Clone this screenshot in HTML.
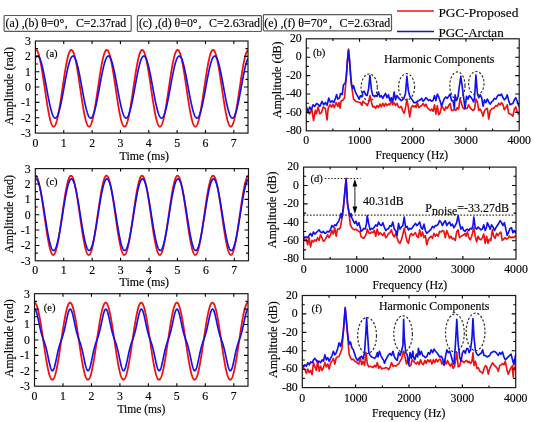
<!DOCTYPE html><html><head><meta charset="utf-8"><style>html,body{margin:0;padding:0;background:#fff;overflow:hidden}svg{display:block;filter:blur(0.35px)}</style></head><body><svg width="533" height="422" viewBox="0 0 533 422">
<style>text{font-family:"Liberation Serif",serif;fill:#000;stroke:#000;stroke-width:0.15px}.t{font-size:11.8px}.l{font-size:12.1px}.b{font-size:12px}.p{font-size:10.6px}</style>
<rect width="533" height="422" fill="#fff"/>
<rect x="4.1" y="15.5" width="127.1" height="15.8" fill="#fff" stroke="#5a5a5a" stroke-width="1.2" rx="0.8"/>
<rect x="137.4" y="15.7" width="123.99999999999997" height="15.8" fill="#fff" stroke="#5a5a5a" stroke-width="1.2" rx="0.8"/>
<rect x="263.4" y="14.6" width="128.10000000000002" height="16.200000000000003" fill="#fff" stroke="#5a5a5a" stroke-width="1.2" rx="0.8"/>
<text x="5.6" y="27.3" class="b" textLength="58.6" lengthAdjust="spacingAndGlyphs">(a) ,(b) θ=0°</text>
<text x="64.8" y="27.3" class="b">,</text>
<text x="75.9" y="27.3" class="b" textLength="50.3" lengthAdjust="spacingAndGlyphs">C=2.37rad</text>
<text x="138.9" y="27.3" class="b" textLength="58.6" lengthAdjust="spacingAndGlyphs">(c) ,(d) θ=0°</text>
<text x="198.4" y="27.3" class="b">,</text>
<text x="209.1" y="27.3" class="b" textLength="51.0" lengthAdjust="spacingAndGlyphs">C=2.63rad</text>
<text x="264.2" y="26.6" class="b" textLength="63.3" lengthAdjust="spacingAndGlyphs">(e) ,(f) θ=70°</text>
<text x="328.9" y="26.6" class="b">,</text>
<text x="339.6" y="26.6" class="b" textLength="50.6" lengthAdjust="spacingAndGlyphs">C=2.63rad</text>
<path d="M397,11H434" stroke="#f01010" stroke-width="1.5"/>
<path d="M397,31.5H434" stroke="#1010f0" stroke-width="1.5"/>
<text x="438.4" y="16.5" font-size="13.3" textLength="80" lengthAdjust="spacingAndGlyphs">PGC-Proposed</text>
<text x="438.4" y="36.5" font-size="13.3" textLength="65.3" lengthAdjust="spacingAndGlyphs">PGC-Arctan</text>
<clipPath id="ca"><rect x="35.4" y="41.0" width="212.6" height="92.1"/></clipPath>
<polyline clip-path="url(#ca)" points="35.40,50.06 35.64,49.95 35.87,49.90 36.11,49.93 36.34,50.02 36.58,50.17 36.82,50.40 37.05,50.69 37.29,51.05 37.53,51.47 37.76,51.95 38.00,52.50 38.23,53.12 38.47,53.79 38.71,54.53 38.94,55.32 39.18,56.17 39.42,57.08 39.65,58.04 39.89,59.06 40.12,60.13 40.36,61.25 40.60,62.41 40.83,63.62 41.07,64.87 41.31,66.17 41.54,67.50 41.78,68.87 42.01,70.27 42.25,71.71 42.49,73.17 42.72,74.66 42.96,76.18 43.20,77.71 43.43,79.26 43.67,80.83 43.90,82.42 44.14,84.01 44.38,85.61 44.61,87.22 44.85,88.82 45.09,90.43 45.32,92.03 45.56,93.63 45.79,95.22 46.03,96.79 46.27,98.35 46.50,99.89 46.74,101.41 46.97,102.91 47.21,104.38 47.45,105.83 47.68,107.24 47.92,108.62 48.16,109.97 48.39,111.27 48.63,112.54 48.86,113.76 49.10,114.94 49.34,116.08 49.57,117.16 49.81,118.19 50.05,119.17 50.28,120.10 50.52,120.97 50.75,121.78 50.99,122.54 51.23,123.23 51.46,123.86 51.70,124.43 51.94,124.94 52.17,125.38 52.41,125.76 52.64,126.07 52.88,126.32 53.12,126.50 53.35,126.61 53.59,126.65 53.83,126.63 54.06,126.54 54.30,126.38 54.53,126.16 54.77,125.87 55.01,125.51 55.24,125.09 55.48,124.60 55.72,124.05 55.95,123.44 56.19,122.76 56.42,122.03 56.66,121.24 56.90,120.38 57.13,119.47 57.37,118.51 57.60,117.50 57.84,116.43 58.08,115.31 58.31,114.15 58.55,112.94 58.79,111.68 59.02,110.39 59.26,109.06 59.49,107.69 59.73,106.28 59.97,104.85 60.20,103.39 60.44,101.90 60.68,100.38 60.91,98.85 61.15,97.29 61.38,95.72 61.62,94.14 61.86,92.54 62.09,90.94 62.33,89.34 62.57,87.73 62.80,86.13 63.04,84.52 63.27,82.93 63.51,81.34 63.75,79.77 63.98,78.21 64.22,76.66 64.46,75.14 64.69,73.64 64.93,72.17 65.16,70.73 65.40,69.31 65.64,67.93 65.87,66.59 66.11,65.28 66.35,64.02 66.58,62.79 66.82,61.61 67.05,60.48 67.29,59.40 67.53,58.36 67.76,57.38 68.00,56.46 68.23,55.59 68.47,54.77 68.71,54.02 68.94,53.33 69.18,52.69 69.42,52.12 69.65,51.62 69.89,51.17 70.12,50.80 70.36,50.48 70.60,50.24 70.83,50.06 71.07,49.95 71.31,49.90 71.54,49.93 71.78,50.02 72.01,50.17 72.25,50.40 72.49,50.69 72.72,51.05 72.96,51.47 73.20,51.95 73.43,52.50 73.67,53.12 73.90,53.79 74.14,54.53 74.38,55.32 74.61,56.17 74.85,57.08 75.09,58.04 75.32,59.06 75.56,60.13 75.79,61.25 76.03,62.41 76.27,63.62 76.50,64.87 76.74,66.17 76.98,67.50 77.21,68.87 77.45,70.27 77.68,71.71 77.92,73.17 78.16,74.66 78.39,76.18 78.63,77.71 78.86,79.26 79.10,80.83 79.34,82.42 79.57,84.01 79.81,85.61 80.05,87.22 80.28,88.82 80.52,90.43 80.75,92.03 80.99,93.63 81.23,95.22 81.46,96.79 81.70,98.35 81.94,99.89 82.17,101.41 82.41,102.91 82.64,104.38 82.88,105.83 83.12,107.24 83.35,108.62 83.59,109.97 83.83,111.27 84.06,112.54 84.30,113.76 84.53,114.94 84.77,116.08 85.01,117.16 85.24,118.19 85.48,119.17 85.72,120.10 85.95,120.97 86.19,121.78 86.42,122.54 86.66,123.23 86.90,123.86 87.13,124.43 87.37,124.94 87.61,125.38 87.84,125.76 88.08,126.07 88.31,126.32 88.55,126.50 88.79,126.61 89.02,126.65 89.26,126.63 89.49,126.54 89.73,126.38 89.97,126.16 90.20,125.87 90.44,125.51 90.68,125.09 90.91,124.60 91.15,124.05 91.38,123.44 91.62,122.76 91.86,122.03 92.09,121.24 92.33,120.38 92.57,119.47 92.80,118.51 93.04,117.50 93.27,116.43 93.51,115.31 93.75,114.15 93.98,112.94 94.22,111.68 94.46,110.39 94.69,109.06 94.93,107.69 95.16,106.28 95.40,104.85 95.64,103.39 95.87,101.90 96.11,100.38 96.35,98.85 96.58,97.29 96.82,95.72 97.05,94.14 97.29,92.54 97.53,90.94 97.76,89.34 98.00,87.73 98.24,86.13 98.47,84.52 98.71,82.93 98.94,81.34 99.18,79.77 99.42,78.21 99.65,76.66 99.89,75.14 100.12,73.64 100.36,72.17 100.60,70.73 100.83,69.31 101.07,67.93 101.31,66.59 101.54,65.28 101.78,64.02 102.01,62.79 102.25,61.61 102.49,60.48 102.72,59.40 102.96,58.36 103.20,57.38 103.43,56.46 103.67,55.59 103.90,54.77 104.14,54.02 104.38,53.33 104.61,52.69 104.85,52.12 105.09,51.62 105.32,51.17 105.56,50.80 105.79,50.48 106.03,50.24 106.27,50.06 106.50,49.95 106.74,49.90 106.98,49.93 107.21,50.02 107.45,50.17 107.68,50.40 107.92,50.69 108.16,51.05 108.39,51.47 108.63,51.95 108.87,52.50 109.10,53.12 109.34,53.79 109.57,54.53 109.81,55.32 110.05,56.17 110.28,57.08 110.52,58.04 110.75,59.06 110.99,60.13 111.23,61.25 111.46,62.41 111.70,63.62 111.94,64.87 112.17,66.17 112.41,67.50 112.64,68.87 112.88,70.27 113.12,71.71 113.35,73.17 113.59,74.66 113.83,76.18 114.06,77.71 114.30,79.26 114.53,80.83 114.77,82.42 115.01,84.01 115.24,85.61 115.48,87.22 115.72,88.82 115.95,90.43 116.19,92.03 116.42,93.63 116.66,95.22 116.90,96.79 117.13,98.35 117.37,99.89 117.61,101.41 117.84,102.91 118.08,104.38 118.31,105.83 118.55,107.24 118.79,108.62 119.02,109.97 119.26,111.27 119.50,112.54 119.73,113.76 119.97,114.94 120.20,116.08 120.44,117.16 120.68,118.19 120.91,119.17 121.15,120.10 121.38,120.97 121.62,121.78 121.86,122.54 122.09,123.23 122.33,123.86 122.57,124.43 122.80,124.94 123.04,125.38 123.27,125.76 123.51,126.07 123.75,126.32 123.98,126.50 124.22,126.61 124.46,126.65 124.69,126.63 124.93,126.54 125.16,126.38 125.40,126.16 125.64,125.87 125.87,125.51 126.11,125.09 126.35,124.60 126.58,124.05 126.82,123.44 127.05,122.76 127.29,122.03 127.53,121.24 127.76,120.38 128.00,119.47 128.24,118.51 128.47,117.50 128.71,116.43 128.94,115.31 129.18,114.15 129.42,112.94 129.65,111.68 129.89,110.39 130.13,109.06 130.36,107.69 130.60,106.28 130.83,104.85 131.07,103.39 131.31,101.90 131.54,100.38 131.78,98.85 132.01,97.29 132.25,95.72 132.49,94.14 132.72,92.54 132.96,90.94 133.20,89.34 133.43,87.73 133.67,86.13 133.90,84.52 134.14,82.93 134.38,81.34 134.61,79.77 134.85,78.21 135.09,76.66 135.32,75.14 135.56,73.64 135.79,72.17 136.03,70.73 136.27,69.31 136.50,67.93 136.74,66.59 136.98,65.28 137.21,64.02 137.45,62.79 137.68,61.61 137.92,60.48 138.16,59.40 138.39,58.36 138.63,57.38 138.87,56.46 139.10,55.59 139.34,54.77 139.57,54.02 139.81,53.33 140.05,52.69 140.28,52.12 140.52,51.62 140.76,51.17 140.99,50.80 141.23,50.48 141.46,50.24 141.70,50.06 141.94,49.95 142.17,49.90 142.41,49.93 142.64,50.02 142.88,50.17 143.12,50.40 143.35,50.69 143.59,51.05 143.83,51.47 144.06,51.95 144.30,52.50 144.53,53.12 144.77,53.79 145.01,54.53 145.24,55.32 145.48,56.17 145.72,57.08 145.95,58.04 146.19,59.06 146.42,60.13 146.66,61.25 146.90,62.41 147.13,63.62 147.37,64.87 147.61,66.17 147.84,67.50 148.08,68.87 148.31,70.27 148.55,71.71 148.79,73.17 149.02,74.66 149.26,76.18 149.50,77.71 149.73,79.26 149.97,80.83 150.20,82.42 150.44,84.01 150.68,85.61 150.91,87.22 151.15,88.82 151.39,90.43 151.62,92.03 151.86,93.63 152.09,95.22 152.33,96.79 152.57,98.35 152.80,99.89 153.04,101.41 153.27,102.91 153.51,104.38 153.75,105.83 153.98,107.24 154.22,108.62 154.46,109.97 154.69,111.27 154.93,112.54 155.16,113.76 155.40,114.94 155.64,116.08 155.87,117.16 156.11,118.19 156.35,119.17 156.58,120.10 156.82,120.97 157.05,121.78 157.29,122.54 157.53,123.23 157.76,123.86 158.00,124.43 158.24,124.94 158.47,125.38 158.71,125.76 158.94,126.07 159.18,126.32 159.42,126.50 159.65,126.61 159.89,126.65 160.13,126.63 160.36,126.54 160.60,126.38 160.83,126.16 161.07,125.87 161.31,125.51 161.54,125.09 161.78,124.60 162.02,124.05 162.25,123.44 162.49,122.76 162.72,122.03 162.96,121.24 163.20,120.38 163.43,119.47 163.67,118.51 163.90,117.50 164.14,116.43 164.38,115.31 164.61,114.15 164.85,112.94 165.09,111.68 165.32,110.39 165.56,109.06 165.79,107.69 166.03,106.28 166.27,104.85 166.50,103.39 166.74,101.90 166.98,100.38 167.21,98.85 167.45,97.29 167.68,95.72 167.92,94.14 168.16,92.54 168.39,90.94 168.63,89.34 168.87,87.73 169.10,86.13 169.34,84.52 169.57,82.93 169.81,81.34 170.05,79.77 170.28,78.21 170.52,76.66 170.76,75.14 170.99,73.64 171.23,72.17 171.46,70.73 171.70,69.31 171.94,67.93 172.17,66.59 172.41,65.28 172.65,64.02 172.88,62.79 173.12,61.61 173.35,60.48 173.59,59.40 173.83,58.36 174.06,57.38 174.30,56.46 174.53,55.59 174.77,54.77 175.01,54.02 175.24,53.33 175.48,52.69 175.72,52.12 175.95,51.62 176.19,51.17 176.42,50.80 176.66,50.48 176.90,50.24 177.13,50.06 177.37,49.95 177.61,49.90 177.84,49.93 178.08,50.02 178.31,50.17 178.55,50.40 178.79,50.69 179.02,51.05 179.26,51.47 179.50,51.95 179.73,52.50 179.97,53.12 180.20,53.79 180.44,54.53 180.68,55.32 180.91,56.17 181.15,57.08 181.39,58.04 181.62,59.06 181.86,60.13 182.09,61.25 182.33,62.41 182.57,63.62 182.80,64.87 183.04,66.17 183.28,67.50 183.51,68.87 183.75,70.27 183.98,71.71 184.22,73.17 184.46,74.66 184.69,76.18 184.93,77.71 185.16,79.26 185.40,80.83 185.64,82.42 185.87,84.01 186.11,85.61 186.35,87.22 186.58,88.82 186.82,90.43 187.05,92.03 187.29,93.63 187.53,95.22 187.76,96.79 188.00,98.35 188.24,99.89 188.47,101.41 188.71,102.91 188.94,104.38 189.18,105.83 189.42,107.24 189.65,108.62 189.89,109.97 190.13,111.27 190.36,112.54 190.60,113.76 190.83,114.94 191.07,116.08 191.31,117.16 191.54,118.19 191.78,119.17 192.02,120.10 192.25,120.97 192.49,121.78 192.72,122.54 192.96,123.23 193.20,123.86 193.43,124.43 193.67,124.94 193.91,125.38 194.14,125.76 194.38,126.07 194.61,126.32 194.85,126.50 195.09,126.61 195.32,126.65 195.56,126.63 195.79,126.54 196.03,126.38 196.27,126.16 196.50,125.87 196.74,125.51 196.98,125.09 197.21,124.60 197.45,124.05 197.68,123.44 197.92,122.76 198.16,122.03 198.39,121.24 198.63,120.38 198.87,119.47 199.10,118.51 199.34,117.50 199.57,116.43 199.81,115.31 200.05,114.15 200.28,112.94 200.52,111.68 200.76,110.39 200.99,109.06 201.23,107.69 201.46,106.28 201.70,104.85 201.94,103.39 202.17,101.90 202.41,100.38 202.65,98.85 202.88,97.29 203.12,95.72 203.35,94.14 203.59,92.54 203.83,90.94 204.06,89.34 204.30,87.73 204.54,86.13 204.77,84.52 205.01,82.93 205.24,81.34 205.48,79.77 205.72,78.21 205.95,76.66 206.19,75.14 206.42,73.64 206.66,72.17 206.90,70.73 207.13,69.31 207.37,67.93 207.61,66.59 207.84,65.28 208.08,64.02 208.31,62.79 208.55,61.61 208.79,60.48 209.02,59.40 209.26,58.36 209.50,57.38 209.73,56.46 209.97,55.59 210.20,54.77 210.44,54.02 210.68,53.33 210.91,52.69 211.15,52.12 211.39,51.62 211.62,51.17 211.86,50.80 212.09,50.48 212.33,50.24 212.57,50.06 212.80,49.95 213.04,49.90 213.28,49.93 213.51,50.02 213.75,50.17 213.98,50.40 214.22,50.69 214.46,51.05 214.69,51.47 214.93,51.95 215.17,52.50 215.40,53.12 215.64,53.79 215.87,54.53 216.11,55.32 216.35,56.17 216.58,57.08 216.82,58.04 217.05,59.06 217.29,60.13 217.53,61.25 217.76,62.41 218.00,63.62 218.24,64.87 218.47,66.17 218.71,67.50 218.94,68.87 219.18,70.27 219.42,71.71 219.65,73.17 219.89,74.66 220.13,76.18 220.36,77.71 220.60,79.26 220.83,80.83 221.07,82.42 221.31,84.01 221.54,85.61 221.78,87.22 222.02,88.82 222.25,90.43 222.49,92.03 222.72,93.63 222.96,95.22 223.20,96.79 223.43,98.35 223.67,99.89 223.91,101.41 224.14,102.91 224.38,104.38 224.61,105.83 224.85,107.24 225.09,108.62 225.32,109.97 225.56,111.27 225.80,112.54 226.03,113.76 226.27,114.94 226.50,116.08 226.74,117.16 226.98,118.19 227.21,119.17 227.45,120.10 227.68,120.97 227.92,121.78 228.16,122.54 228.39,123.23 228.63,123.86 228.87,124.43 229.10,124.94 229.34,125.38 229.57,125.76 229.81,126.07 230.05,126.32 230.28,126.50 230.52,126.61 230.76,126.65 230.99,126.63 231.23,126.54 231.46,126.38 231.70,126.16 231.94,125.87 232.17,125.51 232.41,125.09 232.65,124.60 232.88,124.05 233.12,123.44 233.35,122.76 233.59,122.03 233.83,121.24 234.06,120.38 234.30,119.47 234.54,118.51 234.77,117.50 235.01,116.43 235.24,115.31 235.48,114.15 235.72,112.94 235.95,111.68 236.19,110.39 236.43,109.06 236.66,107.69 236.90,106.28 237.13,104.85 237.37,103.39 237.61,101.90 237.84,100.38 238.08,98.85 238.31,97.29 238.55,95.72 238.79,94.14 239.02,92.54 239.26,90.94 239.50,89.34 239.73,87.73 239.97,86.13 240.20,84.52 240.44,82.93 240.68,81.34 240.91,79.77 241.15,78.21 241.39,76.66 241.62,75.14 241.86,73.64 242.09,72.17 242.33,70.73 242.57,69.31 242.80,67.93 243.04,66.59 243.28,65.28 243.51,64.02 243.75,62.79 243.98,61.61 244.22,60.48 244.46,59.40 244.69,58.36 244.93,57.38 245.17,56.46 245.40,55.59 245.64,54.77 245.87,54.02 246.11,53.33 246.35,52.69 246.58,52.12 246.82,51.62 247.06,51.17 247.29,50.80 247.53,50.48 247.76,50.24 248.00,50.06" fill="none" stroke="#f01010" stroke-width="1.8" stroke-linejoin="round"/>
<polyline clip-path="url(#ca)" points="35.40,58.22 35.64,57.77 35.87,57.37 36.11,57.02 36.34,56.72 36.58,56.48 36.82,56.29 37.05,56.15 37.29,56.07 37.53,56.04 37.76,56.07 38.00,56.15 38.23,56.29 38.47,56.48 38.71,56.72 38.94,57.02 39.18,57.37 39.42,57.77 39.65,58.22 39.89,58.72 40.12,59.28 40.36,59.88 40.60,60.53 40.83,61.22 41.07,61.96 41.31,62.75 41.54,63.58 41.78,64.45 42.01,65.36 42.25,66.30 42.49,67.29 42.72,68.30 42.96,69.35 43.20,70.44 43.43,71.55 43.67,72.68 43.90,73.85 44.14,75.03 44.38,76.24 44.61,77.47 44.85,78.71 45.09,79.97 45.32,81.24 45.56,82.52 45.79,83.81 46.03,85.10 46.27,86.40 46.50,87.70 46.74,89.00 46.97,90.29 47.21,91.58 47.45,92.86 47.68,94.13 47.92,95.39 48.16,96.63 48.39,97.86 48.63,99.07 48.86,100.25 49.10,101.42 49.34,102.55 49.57,103.66 49.81,104.75 50.05,105.80 50.28,106.81 50.52,107.80 50.75,108.74 50.99,109.65 51.23,110.52 51.46,111.35 51.70,112.14 51.94,112.88 52.17,113.57 52.41,114.22 52.64,114.82 52.88,115.38 53.12,115.88 53.35,116.33 53.59,116.73 53.83,117.08 54.06,117.38 54.30,117.62 54.53,117.81 54.77,117.95 55.01,118.03 55.24,118.06 55.48,118.03 55.72,117.95 55.95,117.81 56.19,117.62 56.42,117.38 56.66,117.08 56.90,116.73 57.13,116.33 57.37,115.88 57.60,115.38 57.84,114.82 58.08,114.22 58.31,113.57 58.55,112.88 58.79,112.14 59.02,111.35 59.26,110.52 59.49,109.65 59.73,108.74 59.97,107.80 60.20,106.81 60.44,105.80 60.68,104.75 60.91,103.66 61.15,102.55 61.38,101.42 61.62,100.25 61.86,99.07 62.09,97.86 62.33,96.63 62.57,95.39 62.80,94.13 63.04,92.86 63.27,91.58 63.51,90.29 63.75,89.00 63.98,87.70 64.22,86.40 64.46,85.10 64.69,83.81 64.93,82.52 65.16,81.24 65.40,79.97 65.64,78.71 65.87,77.47 66.11,76.24 66.35,75.03 66.58,73.85 66.82,72.68 67.05,71.55 67.29,70.44 67.53,69.35 67.76,68.30 68.00,67.29 68.23,66.30 68.47,65.36 68.71,64.45 68.94,63.58 69.18,62.75 69.42,61.96 69.65,61.22 69.89,60.53 70.12,59.88 70.36,59.28 70.60,58.72 70.83,58.22 71.07,57.77 71.31,57.37 71.54,57.02 71.78,56.72 72.01,56.48 72.25,56.29 72.49,56.15 72.72,56.07 72.96,56.04 73.20,56.07 73.43,56.15 73.67,56.29 73.90,56.48 74.14,56.72 74.38,57.02 74.61,57.37 74.85,57.77 75.09,58.22 75.32,58.72 75.56,59.28 75.79,59.88 76.03,60.53 76.27,61.22 76.50,61.96 76.74,62.75 76.98,63.58 77.21,64.45 77.45,65.36 77.68,66.30 77.92,67.29 78.16,68.30 78.39,69.35 78.63,70.44 78.86,71.55 79.10,72.68 79.34,73.85 79.57,75.03 79.81,76.24 80.05,77.47 80.28,78.71 80.52,79.97 80.75,81.24 80.99,82.52 81.23,83.81 81.46,85.10 81.70,86.40 81.94,87.70 82.17,89.00 82.41,90.29 82.64,91.58 82.88,92.86 83.12,94.13 83.35,95.39 83.59,96.63 83.83,97.86 84.06,99.07 84.30,100.25 84.53,101.42 84.77,102.55 85.01,103.66 85.24,104.75 85.48,105.80 85.72,106.81 85.95,107.80 86.19,108.74 86.42,109.65 86.66,110.52 86.90,111.35 87.13,112.14 87.37,112.88 87.61,113.57 87.84,114.22 88.08,114.82 88.31,115.38 88.55,115.88 88.79,116.33 89.02,116.73 89.26,117.08 89.49,117.38 89.73,117.62 89.97,117.81 90.20,117.95 90.44,118.03 90.68,118.06 90.91,118.03 91.15,117.95 91.38,117.81 91.62,117.62 91.86,117.38 92.09,117.08 92.33,116.73 92.57,116.33 92.80,115.88 93.04,115.38 93.27,114.82 93.51,114.22 93.75,113.57 93.98,112.88 94.22,112.14 94.46,111.35 94.69,110.52 94.93,109.65 95.16,108.74 95.40,107.80 95.64,106.81 95.87,105.80 96.11,104.75 96.35,103.66 96.58,102.55 96.82,101.42 97.05,100.25 97.29,99.07 97.53,97.86 97.76,96.63 98.00,95.39 98.24,94.13 98.47,92.86 98.71,91.58 98.94,90.29 99.18,89.00 99.42,87.70 99.65,86.40 99.89,85.10 100.12,83.81 100.36,82.52 100.60,81.24 100.83,79.97 101.07,78.71 101.31,77.47 101.54,76.24 101.78,75.03 102.01,73.85 102.25,72.68 102.49,71.55 102.72,70.44 102.96,69.35 103.20,68.30 103.43,67.29 103.67,66.30 103.90,65.36 104.14,64.45 104.38,63.58 104.61,62.75 104.85,61.96 105.09,61.22 105.32,60.53 105.56,59.88 105.79,59.28 106.03,58.72 106.27,58.22 106.50,57.77 106.74,57.37 106.98,57.02 107.21,56.72 107.45,56.48 107.68,56.29 107.92,56.15 108.16,56.07 108.39,56.04 108.63,56.07 108.87,56.15 109.10,56.29 109.34,56.48 109.57,56.72 109.81,57.02 110.05,57.37 110.28,57.77 110.52,58.22 110.75,58.72 110.99,59.28 111.23,59.88 111.46,60.53 111.70,61.22 111.94,61.96 112.17,62.75 112.41,63.58 112.64,64.45 112.88,65.36 113.12,66.30 113.35,67.29 113.59,68.30 113.83,69.35 114.06,70.44 114.30,71.55 114.53,72.68 114.77,73.85 115.01,75.03 115.24,76.24 115.48,77.47 115.72,78.71 115.95,79.97 116.19,81.24 116.42,82.52 116.66,83.81 116.90,85.10 117.13,86.40 117.37,87.70 117.61,89.00 117.84,90.29 118.08,91.58 118.31,92.86 118.55,94.13 118.79,95.39 119.02,96.63 119.26,97.86 119.50,99.07 119.73,100.25 119.97,101.42 120.20,102.55 120.44,103.66 120.68,104.75 120.91,105.80 121.15,106.81 121.38,107.80 121.62,108.74 121.86,109.65 122.09,110.52 122.33,111.35 122.57,112.14 122.80,112.88 123.04,113.57 123.27,114.22 123.51,114.82 123.75,115.38 123.98,115.88 124.22,116.33 124.46,116.73 124.69,117.08 124.93,117.38 125.16,117.62 125.40,117.81 125.64,117.95 125.87,118.03 126.11,118.06 126.35,118.03 126.58,117.95 126.82,117.81 127.05,117.62 127.29,117.38 127.53,117.08 127.76,116.73 128.00,116.33 128.24,115.88 128.47,115.38 128.71,114.82 128.94,114.22 129.18,113.57 129.42,112.88 129.65,112.14 129.89,111.35 130.13,110.52 130.36,109.65 130.60,108.74 130.83,107.80 131.07,106.81 131.31,105.80 131.54,104.75 131.78,103.66 132.01,102.55 132.25,101.42 132.49,100.25 132.72,99.07 132.96,97.86 133.20,96.63 133.43,95.39 133.67,94.13 133.90,92.86 134.14,91.58 134.38,90.29 134.61,89.00 134.85,87.70 135.09,86.40 135.32,85.10 135.56,83.81 135.79,82.52 136.03,81.24 136.27,79.97 136.50,78.71 136.74,77.47 136.98,76.24 137.21,75.03 137.45,73.85 137.68,72.68 137.92,71.55 138.16,70.44 138.39,69.35 138.63,68.30 138.87,67.29 139.10,66.30 139.34,65.36 139.57,64.45 139.81,63.58 140.05,62.75 140.28,61.96 140.52,61.22 140.76,60.53 140.99,59.88 141.23,59.28 141.46,58.72 141.70,58.22 141.94,57.77 142.17,57.37 142.41,57.02 142.64,56.72 142.88,56.48 143.12,56.29 143.35,56.15 143.59,56.07 143.83,56.04 144.06,56.07 144.30,56.15 144.53,56.29 144.77,56.48 145.01,56.72 145.24,57.02 145.48,57.37 145.72,57.77 145.95,58.22 146.19,58.72 146.42,59.28 146.66,59.88 146.90,60.53 147.13,61.22 147.37,61.96 147.61,62.75 147.84,63.58 148.08,64.45 148.31,65.36 148.55,66.30 148.79,67.29 149.02,68.30 149.26,69.35 149.50,70.44 149.73,71.55 149.97,72.68 150.20,73.85 150.44,75.03 150.68,76.24 150.91,77.47 151.15,78.71 151.39,79.97 151.62,81.24 151.86,82.52 152.09,83.81 152.33,85.10 152.57,86.40 152.80,87.70 153.04,89.00 153.27,90.29 153.51,91.58 153.75,92.86 153.98,94.13 154.22,95.39 154.46,96.63 154.69,97.86 154.93,99.07 155.16,100.25 155.40,101.42 155.64,102.55 155.87,103.66 156.11,104.75 156.35,105.80 156.58,106.81 156.82,107.80 157.05,108.74 157.29,109.65 157.53,110.52 157.76,111.35 158.00,112.14 158.24,112.88 158.47,113.57 158.71,114.22 158.94,114.82 159.18,115.38 159.42,115.88 159.65,116.33 159.89,116.73 160.13,117.08 160.36,117.38 160.60,117.62 160.83,117.81 161.07,117.95 161.31,118.03 161.54,118.06 161.78,118.03 162.02,117.95 162.25,117.81 162.49,117.62 162.72,117.38 162.96,117.08 163.20,116.73 163.43,116.33 163.67,115.88 163.90,115.38 164.14,114.82 164.38,114.22 164.61,113.57 164.85,112.88 165.09,112.14 165.32,111.35 165.56,110.52 165.79,109.65 166.03,108.74 166.27,107.80 166.50,106.81 166.74,105.80 166.98,104.75 167.21,103.66 167.45,102.55 167.68,101.42 167.92,100.25 168.16,99.07 168.39,97.86 168.63,96.63 168.87,95.39 169.10,94.13 169.34,92.86 169.57,91.58 169.81,90.29 170.05,89.00 170.28,87.70 170.52,86.40 170.76,85.10 170.99,83.81 171.23,82.52 171.46,81.24 171.70,79.97 171.94,78.71 172.17,77.47 172.41,76.24 172.65,75.03 172.88,73.85 173.12,72.68 173.35,71.55 173.59,70.44 173.83,69.35 174.06,68.30 174.30,67.29 174.53,66.30 174.77,65.36 175.01,64.45 175.24,63.58 175.48,62.75 175.72,61.96 175.95,61.22 176.19,60.53 176.42,59.88 176.66,59.28 176.90,58.72 177.13,58.22 177.37,57.77 177.61,57.37 177.84,57.02 178.08,56.72 178.31,56.48 178.55,56.29 178.79,56.15 179.02,56.07 179.26,56.04 179.50,56.07 179.73,56.15 179.97,56.29 180.20,56.48 180.44,56.72 180.68,57.02 180.91,57.37 181.15,57.77 181.39,58.22 181.62,58.72 181.86,59.28 182.09,59.88 182.33,60.53 182.57,61.22 182.80,61.96 183.04,62.75 183.28,63.58 183.51,64.45 183.75,65.36 183.98,66.30 184.22,67.29 184.46,68.30 184.69,69.35 184.93,70.44 185.16,71.55 185.40,72.68 185.64,73.85 185.87,75.03 186.11,76.24 186.35,77.47 186.58,78.71 186.82,79.97 187.05,81.24 187.29,82.52 187.53,83.81 187.76,85.10 188.00,86.40 188.24,87.70 188.47,89.00 188.71,90.29 188.94,91.58 189.18,92.86 189.42,94.13 189.65,95.39 189.89,96.63 190.13,97.86 190.36,99.07 190.60,100.25 190.83,101.42 191.07,102.55 191.31,103.66 191.54,104.75 191.78,105.80 192.02,106.81 192.25,107.80 192.49,108.74 192.72,109.65 192.96,110.52 193.20,111.35 193.43,112.14 193.67,112.88 193.91,113.57 194.14,114.22 194.38,114.82 194.61,115.38 194.85,115.88 195.09,116.33 195.32,116.73 195.56,117.08 195.79,117.38 196.03,117.62 196.27,117.81 196.50,117.95 196.74,118.03 196.98,118.06 197.21,118.03 197.45,117.95 197.68,117.81 197.92,117.62 198.16,117.38 198.39,117.08 198.63,116.73 198.87,116.33 199.10,115.88 199.34,115.38 199.57,114.82 199.81,114.22 200.05,113.57 200.28,112.88 200.52,112.14 200.76,111.35 200.99,110.52 201.23,109.65 201.46,108.74 201.70,107.80 201.94,106.81 202.17,105.80 202.41,104.75 202.65,103.66 202.88,102.55 203.12,101.42 203.35,100.25 203.59,99.07 203.83,97.86 204.06,96.63 204.30,95.39 204.54,94.13 204.77,92.86 205.01,91.58 205.24,90.29 205.48,89.00 205.72,87.70 205.95,86.40 206.19,85.10 206.42,83.81 206.66,82.52 206.90,81.24 207.13,79.97 207.37,78.71 207.61,77.47 207.84,76.24 208.08,75.03 208.31,73.85 208.55,72.68 208.79,71.55 209.02,70.44 209.26,69.35 209.50,68.30 209.73,67.29 209.97,66.30 210.20,65.36 210.44,64.45 210.68,63.58 210.91,62.75 211.15,61.96 211.39,61.22 211.62,60.53 211.86,59.88 212.09,59.28 212.33,58.72 212.57,58.22 212.80,57.77 213.04,57.37 213.28,57.02 213.51,56.72 213.75,56.48 213.98,56.29 214.22,56.15 214.46,56.07 214.69,56.04 214.93,56.07 215.17,56.15 215.40,56.29 215.64,56.48 215.87,56.72 216.11,57.02 216.35,57.37 216.58,57.77 216.82,58.22 217.05,58.72 217.29,59.28 217.53,59.88 217.76,60.53 218.00,61.22 218.24,61.96 218.47,62.75 218.71,63.58 218.94,64.45 219.18,65.36 219.42,66.30 219.65,67.29 219.89,68.30 220.13,69.35 220.36,70.44 220.60,71.55 220.83,72.68 221.07,73.85 221.31,75.03 221.54,76.24 221.78,77.47 222.02,78.71 222.25,79.97 222.49,81.24 222.72,82.52 222.96,83.81 223.20,85.10 223.43,86.40 223.67,87.70 223.91,89.00 224.14,90.29 224.38,91.58 224.61,92.86 224.85,94.13 225.09,95.39 225.32,96.63 225.56,97.86 225.80,99.07 226.03,100.25 226.27,101.42 226.50,102.55 226.74,103.66 226.98,104.75 227.21,105.80 227.45,106.81 227.68,107.80 227.92,108.74 228.16,109.65 228.39,110.52 228.63,111.35 228.87,112.14 229.10,112.88 229.34,113.57 229.57,114.22 229.81,114.82 230.05,115.38 230.28,115.88 230.52,116.33 230.76,116.73 230.99,117.08 231.23,117.38 231.46,117.62 231.70,117.81 231.94,117.95 232.17,118.03 232.41,118.06 232.65,118.03 232.88,117.95 233.12,117.81 233.35,117.62 233.59,117.38 233.83,117.08 234.06,116.73 234.30,116.33 234.54,115.88 234.77,115.38 235.01,114.82 235.24,114.22 235.48,113.57 235.72,112.88 235.95,112.14 236.19,111.35 236.43,110.52 236.66,109.65 236.90,108.74 237.13,107.80 237.37,106.81 237.61,105.80 237.84,104.75 238.08,103.66 238.31,102.55 238.55,101.42 238.79,100.25 239.02,99.07 239.26,97.86 239.50,96.63 239.73,95.39 239.97,94.13 240.20,92.86 240.44,91.58 240.68,90.29 240.91,89.00 241.15,87.70 241.39,86.40 241.62,85.10 241.86,83.81 242.09,82.52 242.33,81.24 242.57,79.97 242.80,78.71 243.04,77.47 243.28,76.24 243.51,75.03 243.75,73.85 243.98,72.68 244.22,71.55 244.46,70.44 244.69,69.35 244.93,68.30 245.17,67.29 245.40,66.30 245.64,65.36 245.87,64.45 246.11,63.58 246.35,62.75 246.58,61.96 246.82,61.22 247.06,60.53 247.29,59.88 247.53,59.28 247.76,58.72 248.00,58.22" fill="none" stroke="#1010f0" stroke-width="1.65" stroke-linejoin="round"/>
<rect x="35.4" y="41.0" width="212.6" height="92.1" fill="none" stroke="#1a1a1a" stroke-width="1.2"/>
<path d="M63.75,133.1v-3M63.75,41.0v3M92.09,133.1v-3M92.09,41.0v3M120.44,133.1v-3M120.44,41.0v3M148.79,133.1v-3M148.79,41.0v3M177.13,133.1v-3M177.13,41.0v3M205.48,133.1v-3M205.48,41.0v3M233.83,133.1v-3M233.83,41.0v3M35.4,125.42h2.5M248.0,125.42h-2.5M35.4,117.75h4M248.0,117.75h-4M35.4,110.08h2.5M248.0,110.08h-2.5M35.4,102.40h4M248.0,102.40h-4M35.4,94.72h2.5M248.0,94.72h-2.5M35.4,87.05h4M248.0,87.05h-4M35.4,79.38h2.5M248.0,79.38h-2.5M35.4,71.70h4M248.0,71.70h-4M35.4,64.02h2.5M248.0,64.02h-2.5M35.4,56.35h4M248.0,56.35h-4M35.4,48.67h2.5M248.0,48.67h-2.5" stroke="#000" stroke-width="1.1" fill="none"/>
<text x="30.8" y="137.0" text-anchor="end" class="t">-3</text>
<text x="30.8" y="121.7" text-anchor="end" class="t">-2</text>
<text x="30.8" y="106.3" text-anchor="end" class="t">-1</text>
<text x="30.8" y="91.0" text-anchor="end" class="t">0</text>
<text x="30.8" y="75.6" text-anchor="end" class="t">1</text>
<text x="30.8" y="60.2" text-anchor="end" class="t">2</text>
<text x="30.8" y="44.9" text-anchor="end" class="t">3</text>
<text x="35.4" y="146.5" text-anchor="middle" class="t">0</text>
<text x="63.7" y="146.5" text-anchor="middle" class="t">1</text>
<text x="92.1" y="146.5" text-anchor="middle" class="t">2</text>
<text x="120.4" y="146.5" text-anchor="middle" class="t">3</text>
<text x="148.8" y="146.5" text-anchor="middle" class="t">4</text>
<text x="177.1" y="146.5" text-anchor="middle" class="t">5</text>
<text x="205.5" y="146.5" text-anchor="middle" class="t">6</text>
<text x="233.8" y="146.5" text-anchor="middle" class="t">7</text>
<text x="45.9" y="56.5" class="p">(a)</text>
<text transform="translate(12.8,86.2) rotate(-90)" text-anchor="middle" class="l">Amplitude (rad)</text>
<text x="119.6" y="159.5" class="l" textLength="49.5" lengthAdjust="spacingAndGlyphs">Time (ms)</text>
<clipPath id="cc"><rect x="35.3" y="168.6" width="213.2" height="92.20000000000002"/></clipPath>
<polyline clip-path="url(#cc)" points="35.30,175.68 35.54,175.67 35.77,175.74 36.01,175.87 36.25,176.07 36.48,176.34 36.72,176.68 36.96,177.08 37.20,177.56 37.43,178.10 37.67,178.70 37.91,179.37 38.14,180.10 38.38,180.90 38.62,181.75 38.85,182.66 39.09,183.64 39.33,184.66 39.56,185.74 39.80,186.87 40.04,188.05 40.27,189.28 40.51,190.56 40.75,191.88 40.99,193.24 41.22,194.64 41.46,196.07 41.70,197.54 41.93,199.04 42.17,200.57 42.41,202.12 42.64,203.70 42.88,205.29 43.12,206.91 43.35,208.54 43.59,210.18 43.83,211.83 44.06,213.49 44.30,215.15 44.54,216.81 44.78,218.47 45.01,220.12 45.25,221.76 45.49,223.40 45.72,225.01 45.96,226.61 46.20,228.20 46.43,229.75 46.67,231.29 46.91,232.79 47.14,234.27 47.38,235.71 47.62,237.12 47.86,238.48 48.09,239.81 48.33,241.09 48.57,242.33 48.80,243.52 49.04,244.67 49.28,245.76 49.51,246.79 49.75,247.77 49.99,248.70 50.22,249.57 50.46,250.37 50.70,251.12 50.93,251.80 51.17,252.42 51.41,252.97 51.65,253.46 51.88,253.87 52.12,254.23 52.36,254.51 52.59,254.73 52.83,254.87 53.07,254.95 53.30,254.96 53.54,254.89 53.78,254.76 54.01,254.56 54.25,254.29 54.49,253.95 54.72,253.54 54.96,253.07 55.20,252.53 55.44,251.93 55.67,251.26 55.91,250.53 56.15,249.73 56.38,248.88 56.62,247.96 56.86,246.99 57.09,245.97 57.33,244.89 57.57,243.76 57.80,242.58 58.04,241.35 58.28,240.07 58.52,238.75 58.75,237.39 58.99,235.99 59.23,234.56 59.46,233.09 59.70,231.59 59.94,230.06 60.17,228.51 60.41,226.93 60.65,225.33 60.88,223.72 61.12,222.09 61.36,220.45 61.59,218.80 61.83,217.14 62.07,215.48 62.31,213.82 62.54,212.16 62.78,210.51 63.02,208.87 63.25,207.23 63.49,205.62 63.73,204.01 63.96,202.43 64.20,200.87 64.44,199.34 64.67,197.84 64.91,196.36 65.15,194.92 65.38,193.51 65.62,192.15 65.86,190.82 66.10,189.54 66.33,188.30 66.57,187.11 66.81,185.96 67.04,184.87 67.28,183.84 67.52,182.85 67.75,181.93 67.99,181.06 68.23,180.26 68.46,179.51 68.70,178.83 68.94,178.21 69.18,177.66 69.41,177.17 69.65,176.75 69.89,176.40 70.12,176.12 70.36,175.90 70.60,175.76 70.83,175.68 71.07,175.67 71.31,175.74 71.54,175.87 71.78,176.07 72.02,176.34 72.25,176.68 72.49,177.08 72.73,177.56 72.97,178.10 73.20,178.70 73.44,179.37 73.68,180.10 73.91,180.90 74.15,181.75 74.39,182.66 74.62,183.64 74.86,184.66 75.10,185.74 75.33,186.87 75.57,188.05 75.81,189.28 76.04,190.56 76.28,191.88 76.52,193.24 76.76,194.64 76.99,196.07 77.23,197.54 77.47,199.04 77.70,200.57 77.94,202.12 78.18,203.70 78.41,205.29 78.65,206.91 78.89,208.54 79.12,210.18 79.36,211.83 79.60,213.49 79.84,215.15 80.07,216.81 80.31,218.47 80.55,220.12 80.78,221.76 81.02,223.40 81.26,225.01 81.49,226.61 81.73,228.20 81.97,229.75 82.20,231.29 82.44,232.79 82.68,234.27 82.91,235.71 83.15,237.12 83.39,238.48 83.63,239.81 83.86,241.09 84.10,242.33 84.34,243.52 84.57,244.67 84.81,245.76 85.05,246.79 85.28,247.77 85.52,248.70 85.76,249.57 85.99,250.37 86.23,251.12 86.47,251.80 86.70,252.42 86.94,252.97 87.18,253.46 87.42,253.87 87.65,254.23 87.89,254.51 88.13,254.73 88.36,254.87 88.60,254.95 88.84,254.96 89.07,254.89 89.31,254.76 89.55,254.56 89.78,254.29 90.02,253.95 90.26,253.54 90.50,253.07 90.73,252.53 90.97,251.93 91.21,251.26 91.44,250.53 91.68,249.73 91.92,248.88 92.15,247.96 92.39,246.99 92.63,245.97 92.86,244.89 93.10,243.76 93.34,242.58 93.57,241.35 93.81,240.07 94.05,238.75 94.29,237.39 94.52,235.99 94.76,234.56 95.00,233.09 95.23,231.59 95.47,230.06 95.71,228.51 95.94,226.93 96.18,225.33 96.42,223.72 96.65,222.09 96.89,220.45 97.13,218.80 97.36,217.14 97.60,215.48 97.84,213.82 98.08,212.16 98.31,210.51 98.55,208.87 98.79,207.23 99.02,205.62 99.26,204.01 99.50,202.43 99.73,200.87 99.97,199.34 100.21,197.84 100.44,196.36 100.68,194.92 100.92,193.51 101.16,192.15 101.39,190.82 101.63,189.54 101.87,188.30 102.10,187.11 102.34,185.96 102.58,184.87 102.81,183.84 103.05,182.85 103.29,181.93 103.52,181.06 103.76,180.26 104.00,179.51 104.23,178.83 104.47,178.21 104.71,177.66 104.95,177.17 105.18,176.75 105.42,176.40 105.66,176.12 105.89,175.90 106.13,175.76 106.37,175.68 106.60,175.67 106.84,175.74 107.08,175.87 107.31,176.07 107.55,176.34 107.79,176.68 108.02,177.08 108.26,177.56 108.50,178.10 108.74,178.70 108.97,179.37 109.21,180.10 109.45,180.90 109.68,181.75 109.92,182.66 110.16,183.64 110.39,184.66 110.63,185.74 110.87,186.87 111.10,188.05 111.34,189.28 111.58,190.56 111.82,191.88 112.05,193.24 112.29,194.64 112.53,196.07 112.76,197.54 113.00,199.04 113.24,200.57 113.47,202.12 113.71,203.70 113.95,205.29 114.18,206.91 114.42,208.54 114.66,210.18 114.89,211.83 115.13,213.49 115.37,215.15 115.61,216.81 115.84,218.47 116.08,220.12 116.32,221.76 116.55,223.40 116.79,225.01 117.03,226.61 117.26,228.20 117.50,229.75 117.74,231.29 117.97,232.79 118.21,234.27 118.45,235.71 118.68,237.12 118.92,238.48 119.16,239.81 119.40,241.09 119.63,242.33 119.87,243.52 120.11,244.67 120.34,245.76 120.58,246.79 120.82,247.77 121.05,248.70 121.29,249.57 121.53,250.37 121.76,251.12 122.00,251.80 122.24,252.42 122.48,252.97 122.71,253.46 122.95,253.87 123.19,254.23 123.42,254.51 123.66,254.73 123.90,254.87 124.13,254.95 124.37,254.96 124.61,254.89 124.84,254.76 125.08,254.56 125.32,254.29 125.55,253.95 125.79,253.54 126.03,253.07 126.27,252.53 126.50,251.93 126.74,251.26 126.98,250.53 127.21,249.73 127.45,248.88 127.69,247.96 127.92,246.99 128.16,245.97 128.40,244.89 128.63,243.76 128.87,242.58 129.11,241.35 129.34,240.07 129.58,238.75 129.82,237.39 130.06,235.99 130.29,234.56 130.53,233.09 130.77,231.59 131.00,230.06 131.24,228.51 131.48,226.93 131.71,225.33 131.95,223.72 132.19,222.09 132.42,220.45 132.66,218.80 132.90,217.14 133.14,215.48 133.37,213.82 133.61,212.16 133.85,210.51 134.08,208.87 134.32,207.23 134.56,205.62 134.79,204.01 135.03,202.43 135.27,200.87 135.50,199.34 135.74,197.84 135.98,196.36 136.21,194.92 136.45,193.51 136.69,192.15 136.93,190.82 137.16,189.54 137.40,188.30 137.64,187.11 137.87,185.96 138.11,184.87 138.35,183.84 138.58,182.85 138.82,181.93 139.06,181.06 139.29,180.26 139.53,179.51 139.77,178.83 140.00,178.21 140.24,177.66 140.48,177.17 140.72,176.75 140.95,176.40 141.19,176.12 141.43,175.90 141.66,175.76 141.90,175.68 142.14,175.67 142.37,175.74 142.61,175.87 142.85,176.07 143.08,176.34 143.32,176.68 143.56,177.08 143.80,177.56 144.03,178.10 144.27,178.70 144.51,179.37 144.74,180.10 144.98,180.90 145.22,181.75 145.45,182.66 145.69,183.64 145.93,184.66 146.16,185.74 146.40,186.87 146.64,188.05 146.87,189.28 147.11,190.56 147.35,191.88 147.59,193.24 147.82,194.64 148.06,196.07 148.30,197.54 148.53,199.04 148.77,200.57 149.01,202.12 149.24,203.70 149.48,205.29 149.72,206.91 149.95,208.54 150.19,210.18 150.43,211.83 150.66,213.49 150.90,215.15 151.14,216.81 151.38,218.47 151.61,220.12 151.85,221.76 152.09,223.40 152.32,225.01 152.56,226.61 152.80,228.20 153.03,229.75 153.27,231.29 153.51,232.79 153.74,234.27 153.98,235.71 154.22,237.12 154.46,238.48 154.69,239.81 154.93,241.09 155.17,242.33 155.40,243.52 155.64,244.67 155.88,245.76 156.11,246.79 156.35,247.77 156.59,248.70 156.82,249.57 157.06,250.37 157.30,251.12 157.53,251.80 157.77,252.42 158.01,252.97 158.25,253.46 158.48,253.87 158.72,254.23 158.96,254.51 159.19,254.73 159.43,254.87 159.67,254.95 159.90,254.96 160.14,254.89 160.38,254.76 160.61,254.56 160.85,254.29 161.09,253.95 161.32,253.54 161.56,253.07 161.80,252.53 162.04,251.93 162.27,251.26 162.51,250.53 162.75,249.73 162.98,248.88 163.22,247.96 163.46,246.99 163.69,245.97 163.93,244.89 164.17,243.76 164.40,242.58 164.64,241.35 164.88,240.07 165.12,238.75 165.35,237.39 165.59,235.99 165.83,234.56 166.06,233.09 166.30,231.59 166.54,230.06 166.77,228.51 167.01,226.93 167.25,225.33 167.48,223.72 167.72,222.09 167.96,220.45 168.19,218.80 168.43,217.14 168.67,215.48 168.91,213.82 169.14,212.16 169.38,210.51 169.62,208.87 169.85,207.23 170.09,205.62 170.33,204.01 170.56,202.43 170.80,200.87 171.04,199.34 171.27,197.84 171.51,196.36 171.75,194.92 171.98,193.51 172.22,192.15 172.46,190.82 172.70,189.54 172.93,188.30 173.17,187.11 173.41,185.96 173.64,184.87 173.88,183.84 174.12,182.85 174.35,181.93 174.59,181.06 174.83,180.26 175.06,179.51 175.30,178.83 175.54,178.21 175.78,177.66 176.01,177.17 176.25,176.75 176.49,176.40 176.72,176.12 176.96,175.90 177.20,175.76 177.43,175.68 177.67,175.67 177.91,175.74 178.14,175.87 178.38,176.07 178.62,176.34 178.85,176.68 179.09,177.08 179.33,177.56 179.57,178.10 179.80,178.70 180.04,179.37 180.28,180.10 180.51,180.90 180.75,181.75 180.99,182.66 181.22,183.64 181.46,184.66 181.70,185.74 181.93,186.87 182.17,188.05 182.41,189.28 182.64,190.56 182.88,191.88 183.12,193.24 183.36,194.64 183.59,196.07 183.83,197.54 184.07,199.04 184.30,200.57 184.54,202.12 184.78,203.70 185.01,205.29 185.25,206.91 185.49,208.54 185.72,210.18 185.96,211.83 186.20,213.49 186.44,215.15 186.67,216.81 186.91,218.47 187.15,220.12 187.38,221.76 187.62,223.40 187.86,225.01 188.09,226.61 188.33,228.20 188.57,229.75 188.80,231.29 189.04,232.79 189.28,234.27 189.51,235.71 189.75,237.12 189.99,238.48 190.23,239.81 190.46,241.09 190.70,242.33 190.94,243.52 191.17,244.67 191.41,245.76 191.65,246.79 191.88,247.77 192.12,248.70 192.36,249.57 192.59,250.37 192.83,251.12 193.07,251.80 193.30,252.42 193.54,252.97 193.78,253.46 194.02,253.87 194.25,254.23 194.49,254.51 194.73,254.73 194.96,254.87 195.20,254.95 195.44,254.96 195.67,254.89 195.91,254.76 196.15,254.56 196.38,254.29 196.62,253.95 196.86,253.54 197.10,253.07 197.33,252.53 197.57,251.93 197.81,251.26 198.04,250.53 198.28,249.73 198.52,248.88 198.75,247.96 198.99,246.99 199.23,245.97 199.46,244.89 199.70,243.76 199.94,242.58 200.17,241.35 200.41,240.07 200.65,238.75 200.89,237.39 201.12,235.99 201.36,234.56 201.60,233.09 201.83,231.59 202.07,230.06 202.31,228.51 202.54,226.93 202.78,225.33 203.02,223.72 203.25,222.09 203.49,220.45 203.73,218.80 203.96,217.14 204.20,215.48 204.44,213.82 204.68,212.16 204.91,210.51 205.15,208.87 205.39,207.23 205.62,205.62 205.86,204.01 206.10,202.43 206.33,200.87 206.57,199.34 206.81,197.84 207.04,196.36 207.28,194.92 207.52,193.51 207.76,192.15 207.99,190.82 208.23,189.54 208.47,188.30 208.70,187.11 208.94,185.96 209.18,184.87 209.41,183.84 209.65,182.85 209.89,181.93 210.12,181.06 210.36,180.26 210.60,179.51 210.83,178.83 211.07,178.21 211.31,177.66 211.55,177.17 211.78,176.75 212.02,176.40 212.26,176.12 212.49,175.90 212.73,175.76 212.97,175.68 213.20,175.67 213.44,175.74 213.68,175.87 213.91,176.07 214.15,176.34 214.39,176.68 214.62,177.08 214.86,177.56 215.10,178.10 215.34,178.70 215.57,179.37 215.81,180.10 216.05,180.90 216.28,181.75 216.52,182.66 216.76,183.64 216.99,184.66 217.23,185.74 217.47,186.87 217.70,188.05 217.94,189.28 218.18,190.56 218.42,191.88 218.65,193.24 218.89,194.64 219.13,196.07 219.36,197.54 219.60,199.04 219.84,200.57 220.07,202.12 220.31,203.70 220.55,205.29 220.78,206.91 221.02,208.54 221.26,210.18 221.49,211.83 221.73,213.49 221.97,215.15 222.21,216.81 222.44,218.47 222.68,220.12 222.92,221.76 223.15,223.40 223.39,225.01 223.63,226.61 223.86,228.20 224.10,229.75 224.34,231.29 224.57,232.79 224.81,234.27 225.05,235.71 225.28,237.12 225.52,238.48 225.76,239.81 226.00,241.09 226.23,242.33 226.47,243.52 226.71,244.67 226.94,245.76 227.18,246.79 227.42,247.77 227.65,248.70 227.89,249.57 228.13,250.37 228.36,251.12 228.60,251.80 228.84,252.42 229.08,252.97 229.31,253.46 229.55,253.87 229.79,254.23 230.02,254.51 230.26,254.73 230.50,254.87 230.73,254.95 230.97,254.96 231.21,254.89 231.44,254.76 231.68,254.56 231.92,254.29 232.15,253.95 232.39,253.54 232.63,253.07 232.87,252.53 233.10,251.93 233.34,251.26 233.58,250.53 233.81,249.73 234.05,248.88 234.29,247.96 234.52,246.99 234.76,245.97 235.00,244.89 235.23,243.76 235.47,242.58 235.71,241.35 235.94,240.07 236.18,238.75 236.42,237.39 236.66,235.99 236.89,234.56 237.13,233.09 237.37,231.59 237.60,230.06 237.84,228.51 238.08,226.93 238.31,225.33 238.55,223.72 238.79,222.09 239.02,220.45 239.26,218.80 239.50,217.14 239.74,215.48 239.97,213.82 240.21,212.16 240.45,210.51 240.68,208.87 240.92,207.23 241.16,205.62 241.39,204.01 241.63,202.43 241.87,200.87 242.10,199.34 242.34,197.84 242.58,196.36 242.81,194.92 243.05,193.51 243.29,192.15 243.53,190.82 243.76,189.54 244.00,188.30 244.24,187.11 244.47,185.96 244.71,184.87 244.95,183.84 245.18,182.85 245.42,181.93 245.66,181.06 245.89,180.26 246.13,179.51 246.37,178.83 246.60,178.21 246.84,177.66 247.08,177.17 247.32,176.75 247.55,176.40 247.79,176.12 248.03,175.90 248.26,175.76 248.50,175.68" fill="none" stroke="#f01010" stroke-width="1.8" stroke-linejoin="round"/>
<polyline clip-path="url(#cc)" points="35.30,179.08 35.54,178.96 35.77,178.90 36.01,178.91 36.25,178.98 36.48,179.11 36.72,179.30 36.96,179.56 37.20,179.88 37.43,180.26 37.67,180.69 37.91,181.19 38.14,181.75 38.38,182.37 38.62,183.04 38.85,183.77 39.09,184.55 39.33,185.39 39.56,186.27 39.80,187.21 40.04,188.19 40.27,189.22 40.51,190.30 40.75,191.42 40.99,192.58 41.22,193.78 41.46,195.01 41.70,196.28 41.93,197.58 42.17,198.91 42.41,200.27 42.64,201.66 42.88,203.07 43.12,204.50 43.35,205.94 43.59,207.40 43.83,208.88 44.06,210.36 44.30,211.85 44.54,213.35 44.78,214.85 45.01,216.35 45.25,217.85 45.49,219.34 45.72,220.82 45.96,222.29 46.20,223.75 46.43,225.19 46.67,226.62 46.91,228.02 47.14,229.40 47.38,230.75 47.62,232.08 47.86,233.38 48.09,234.64 48.33,235.87 48.57,237.06 48.80,238.21 49.04,239.32 49.28,240.39 49.51,241.41 49.75,242.38 49.99,243.31 50.22,244.19 50.46,245.01 50.70,245.78 50.93,246.50 51.17,247.16 51.41,247.76 51.65,248.31 51.88,248.80 52.12,249.23 52.36,249.59 52.59,249.90 52.83,250.14 53.07,250.32 53.30,250.44 53.54,250.50 53.78,250.49 54.01,250.42 54.25,250.29 54.49,250.10 54.72,249.84 54.96,249.52 55.20,249.14 55.44,248.71 55.67,248.21 55.91,247.65 56.15,247.03 56.38,246.36 56.62,245.63 56.86,244.85 57.09,244.01 57.33,243.13 57.57,242.19 57.80,241.21 58.04,240.18 58.28,239.10 58.52,237.98 58.75,236.82 58.99,235.62 59.23,234.39 59.46,233.12 59.70,231.82 59.94,230.49 60.17,229.13 60.41,227.74 60.65,226.33 60.88,224.90 61.12,223.46 61.36,222.00 61.59,220.52 61.83,219.04 62.07,217.55 62.31,216.05 62.54,214.55 62.78,213.05 63.02,211.55 63.25,210.06 63.49,208.58 63.73,207.11 63.96,205.65 64.20,204.21 64.44,202.78 64.67,201.38 64.91,200.00 65.15,198.65 65.38,197.32 65.62,196.02 65.86,194.76 66.10,193.53 66.33,192.34 66.57,191.19 66.81,190.08 67.04,189.01 67.28,187.99 67.52,187.02 67.75,186.09 67.99,185.21 68.23,184.39 68.46,183.62 68.70,182.90 68.94,182.24 69.18,181.64 69.41,181.09 69.65,180.60 69.89,180.17 70.12,179.81 70.36,179.50 70.60,179.26 70.83,179.08 71.07,178.96 71.31,178.90 71.54,178.91 71.78,178.98 72.02,179.11 72.25,179.30 72.49,179.56 72.73,179.88 72.97,180.26 73.20,180.69 73.44,181.19 73.68,181.75 73.91,182.37 74.15,183.04 74.39,183.77 74.62,184.55 74.86,185.39 75.10,186.27 75.33,187.21 75.57,188.19 75.81,189.22 76.04,190.30 76.28,191.42 76.52,192.58 76.76,193.78 76.99,195.01 77.23,196.28 77.47,197.58 77.70,198.91 77.94,200.27 78.18,201.66 78.41,203.07 78.65,204.50 78.89,205.94 79.12,207.40 79.36,208.88 79.60,210.36 79.84,211.85 80.07,213.35 80.31,214.85 80.55,216.35 80.78,217.85 81.02,219.34 81.26,220.82 81.49,222.29 81.73,223.75 81.97,225.19 82.20,226.62 82.44,228.02 82.68,229.40 82.91,230.75 83.15,232.08 83.39,233.38 83.63,234.64 83.86,235.87 84.10,237.06 84.34,238.21 84.57,239.32 84.81,240.39 85.05,241.41 85.28,242.38 85.52,243.31 85.76,244.19 85.99,245.01 86.23,245.78 86.47,246.50 86.70,247.16 86.94,247.76 87.18,248.31 87.42,248.80 87.65,249.23 87.89,249.59 88.13,249.90 88.36,250.14 88.60,250.32 88.84,250.44 89.07,250.50 89.31,250.49 89.55,250.42 89.78,250.29 90.02,250.10 90.26,249.84 90.50,249.52 90.73,249.14 90.97,248.71 91.21,248.21 91.44,247.65 91.68,247.03 91.92,246.36 92.15,245.63 92.39,244.85 92.63,244.01 92.86,243.13 93.10,242.19 93.34,241.21 93.57,240.18 93.81,239.10 94.05,237.98 94.29,236.82 94.52,235.62 94.76,234.39 95.00,233.12 95.23,231.82 95.47,230.49 95.71,229.13 95.94,227.74 96.18,226.33 96.42,224.90 96.65,223.46 96.89,222.00 97.13,220.52 97.36,219.04 97.60,217.55 97.84,216.05 98.08,214.55 98.31,213.05 98.55,211.55 98.79,210.06 99.02,208.58 99.26,207.11 99.50,205.65 99.73,204.21 99.97,202.78 100.21,201.38 100.44,200.00 100.68,198.65 100.92,197.32 101.16,196.02 101.39,194.76 101.63,193.53 101.87,192.34 102.10,191.19 102.34,190.08 102.58,189.01 102.81,187.99 103.05,187.02 103.29,186.09 103.52,185.21 103.76,184.39 104.00,183.62 104.23,182.90 104.47,182.24 104.71,181.64 104.95,181.09 105.18,180.60 105.42,180.17 105.66,179.81 105.89,179.50 106.13,179.26 106.37,179.08 106.60,178.96 106.84,178.90 107.08,178.91 107.31,178.98 107.55,179.11 107.79,179.30 108.02,179.56 108.26,179.88 108.50,180.26 108.74,180.69 108.97,181.19 109.21,181.75 109.45,182.37 109.68,183.04 109.92,183.77 110.16,184.55 110.39,185.39 110.63,186.27 110.87,187.21 111.10,188.19 111.34,189.22 111.58,190.30 111.82,191.42 112.05,192.58 112.29,193.78 112.53,195.01 112.76,196.28 113.00,197.58 113.24,198.91 113.47,200.27 113.71,201.66 113.95,203.07 114.18,204.50 114.42,205.94 114.66,207.40 114.89,208.88 115.13,210.36 115.37,211.85 115.61,213.35 115.84,214.85 116.08,216.35 116.32,217.85 116.55,219.34 116.79,220.82 117.03,222.29 117.26,223.75 117.50,225.19 117.74,226.62 117.97,228.02 118.21,229.40 118.45,230.75 118.68,232.08 118.92,233.38 119.16,234.64 119.40,235.87 119.63,237.06 119.87,238.21 120.11,239.32 120.34,240.39 120.58,241.41 120.82,242.38 121.05,243.31 121.29,244.19 121.53,245.01 121.76,245.78 122.00,246.50 122.24,247.16 122.48,247.76 122.71,248.31 122.95,248.80 123.19,249.23 123.42,249.59 123.66,249.90 123.90,250.14 124.13,250.32 124.37,250.44 124.61,250.50 124.84,250.49 125.08,250.42 125.32,250.29 125.55,250.10 125.79,249.84 126.03,249.52 126.27,249.14 126.50,248.71 126.74,248.21 126.98,247.65 127.21,247.03 127.45,246.36 127.69,245.63 127.92,244.85 128.16,244.01 128.40,243.13 128.63,242.19 128.87,241.21 129.11,240.18 129.34,239.10 129.58,237.98 129.82,236.82 130.06,235.62 130.29,234.39 130.53,233.12 130.77,231.82 131.00,230.49 131.24,229.13 131.48,227.74 131.71,226.33 131.95,224.90 132.19,223.46 132.42,222.00 132.66,220.52 132.90,219.04 133.14,217.55 133.37,216.05 133.61,214.55 133.85,213.05 134.08,211.55 134.32,210.06 134.56,208.58 134.79,207.11 135.03,205.65 135.27,204.21 135.50,202.78 135.74,201.38 135.98,200.00 136.21,198.65 136.45,197.32 136.69,196.02 136.93,194.76 137.16,193.53 137.40,192.34 137.64,191.19 137.87,190.08 138.11,189.01 138.35,187.99 138.58,187.02 138.82,186.09 139.06,185.21 139.29,184.39 139.53,183.62 139.77,182.90 140.00,182.24 140.24,181.64 140.48,181.09 140.72,180.60 140.95,180.17 141.19,179.81 141.43,179.50 141.66,179.26 141.90,179.08 142.14,178.96 142.37,178.90 142.61,178.91 142.85,178.98 143.08,179.11 143.32,179.30 143.56,179.56 143.80,179.88 144.03,180.26 144.27,180.69 144.51,181.19 144.74,181.75 144.98,182.37 145.22,183.04 145.45,183.77 145.69,184.55 145.93,185.39 146.16,186.27 146.40,187.21 146.64,188.19 146.87,189.22 147.11,190.30 147.35,191.42 147.59,192.58 147.82,193.78 148.06,195.01 148.30,196.28 148.53,197.58 148.77,198.91 149.01,200.27 149.24,201.66 149.48,203.07 149.72,204.50 149.95,205.94 150.19,207.40 150.43,208.88 150.66,210.36 150.90,211.85 151.14,213.35 151.38,214.85 151.61,216.35 151.85,217.85 152.09,219.34 152.32,220.82 152.56,222.29 152.80,223.75 153.03,225.19 153.27,226.62 153.51,228.02 153.74,229.40 153.98,230.75 154.22,232.08 154.46,233.38 154.69,234.64 154.93,235.87 155.17,237.06 155.40,238.21 155.64,239.32 155.88,240.39 156.11,241.41 156.35,242.38 156.59,243.31 156.82,244.19 157.06,245.01 157.30,245.78 157.53,246.50 157.77,247.16 158.01,247.76 158.25,248.31 158.48,248.80 158.72,249.23 158.96,249.59 159.19,249.90 159.43,250.14 159.67,250.32 159.90,250.44 160.14,250.50 160.38,250.49 160.61,250.42 160.85,250.29 161.09,250.10 161.32,249.84 161.56,249.52 161.80,249.14 162.04,248.71 162.27,248.21 162.51,247.65 162.75,247.03 162.98,246.36 163.22,245.63 163.46,244.85 163.69,244.01 163.93,243.13 164.17,242.19 164.40,241.21 164.64,240.18 164.88,239.10 165.12,237.98 165.35,236.82 165.59,235.62 165.83,234.39 166.06,233.12 166.30,231.82 166.54,230.49 166.77,229.13 167.01,227.74 167.25,226.33 167.48,224.90 167.72,223.46 167.96,222.00 168.19,220.52 168.43,219.04 168.67,217.55 168.91,216.05 169.14,214.55 169.38,213.05 169.62,211.55 169.85,210.06 170.09,208.58 170.33,207.11 170.56,205.65 170.80,204.21 171.04,202.78 171.27,201.38 171.51,200.00 171.75,198.65 171.98,197.32 172.22,196.02 172.46,194.76 172.70,193.53 172.93,192.34 173.17,191.19 173.41,190.08 173.64,189.01 173.88,187.99 174.12,187.02 174.35,186.09 174.59,185.21 174.83,184.39 175.06,183.62 175.30,182.90 175.54,182.24 175.78,181.64 176.01,181.09 176.25,180.60 176.49,180.17 176.72,179.81 176.96,179.50 177.20,179.26 177.43,179.08 177.67,178.96 177.91,178.90 178.14,178.91 178.38,178.98 178.62,179.11 178.85,179.30 179.09,179.56 179.33,179.88 179.57,180.26 179.80,180.69 180.04,181.19 180.28,181.75 180.51,182.37 180.75,183.04 180.99,183.77 181.22,184.55 181.46,185.39 181.70,186.27 181.93,187.21 182.17,188.19 182.41,189.22 182.64,190.30 182.88,191.42 183.12,192.58 183.36,193.78 183.59,195.01 183.83,196.28 184.07,197.58 184.30,198.91 184.54,200.27 184.78,201.66 185.01,203.07 185.25,204.50 185.49,205.94 185.72,207.40 185.96,208.88 186.20,210.36 186.44,211.85 186.67,213.35 186.91,214.85 187.15,216.35 187.38,217.85 187.62,219.34 187.86,220.82 188.09,222.29 188.33,223.75 188.57,225.19 188.80,226.62 189.04,228.02 189.28,229.40 189.51,230.75 189.75,232.08 189.99,233.38 190.23,234.64 190.46,235.87 190.70,237.06 190.94,238.21 191.17,239.32 191.41,240.39 191.65,241.41 191.88,242.38 192.12,243.31 192.36,244.19 192.59,245.01 192.83,245.78 193.07,246.50 193.30,247.16 193.54,247.76 193.78,248.31 194.02,248.80 194.25,249.23 194.49,249.59 194.73,249.90 194.96,250.14 195.20,250.32 195.44,250.44 195.67,250.50 195.91,250.49 196.15,250.42 196.38,250.29 196.62,250.10 196.86,249.84 197.10,249.52 197.33,249.14 197.57,248.71 197.81,248.21 198.04,247.65 198.28,247.03 198.52,246.36 198.75,245.63 198.99,244.85 199.23,244.01 199.46,243.13 199.70,242.19 199.94,241.21 200.17,240.18 200.41,239.10 200.65,237.98 200.89,236.82 201.12,235.62 201.36,234.39 201.60,233.12 201.83,231.82 202.07,230.49 202.31,229.13 202.54,227.74 202.78,226.33 203.02,224.90 203.25,223.46 203.49,222.00 203.73,220.52 203.96,219.04 204.20,217.55 204.44,216.05 204.68,214.55 204.91,213.05 205.15,211.55 205.39,210.06 205.62,208.58 205.86,207.11 206.10,205.65 206.33,204.21 206.57,202.78 206.81,201.38 207.04,200.00 207.28,198.65 207.52,197.32 207.76,196.02 207.99,194.76 208.23,193.53 208.47,192.34 208.70,191.19 208.94,190.08 209.18,189.01 209.41,187.99 209.65,187.02 209.89,186.09 210.12,185.21 210.36,184.39 210.60,183.62 210.83,182.90 211.07,182.24 211.31,181.64 211.55,181.09 211.78,180.60 212.02,180.17 212.26,179.81 212.49,179.50 212.73,179.26 212.97,179.08 213.20,178.96 213.44,178.90 213.68,178.91 213.91,178.98 214.15,179.11 214.39,179.30 214.62,179.56 214.86,179.88 215.10,180.26 215.34,180.69 215.57,181.19 215.81,181.75 216.05,182.37 216.28,183.04 216.52,183.77 216.76,184.55 216.99,185.39 217.23,186.27 217.47,187.21 217.70,188.19 217.94,189.22 218.18,190.30 218.42,191.42 218.65,192.58 218.89,193.78 219.13,195.01 219.36,196.28 219.60,197.58 219.84,198.91 220.07,200.27 220.31,201.66 220.55,203.07 220.78,204.50 221.02,205.94 221.26,207.40 221.49,208.88 221.73,210.36 221.97,211.85 222.21,213.35 222.44,214.85 222.68,216.35 222.92,217.85 223.15,219.34 223.39,220.82 223.63,222.29 223.86,223.75 224.10,225.19 224.34,226.62 224.57,228.02 224.81,229.40 225.05,230.75 225.28,232.08 225.52,233.38 225.76,234.64 226.00,235.87 226.23,237.06 226.47,238.21 226.71,239.32 226.94,240.39 227.18,241.41 227.42,242.38 227.65,243.31 227.89,244.19 228.13,245.01 228.36,245.78 228.60,246.50 228.84,247.16 229.08,247.76 229.31,248.31 229.55,248.80 229.79,249.23 230.02,249.59 230.26,249.90 230.50,250.14 230.73,250.32 230.97,250.44 231.21,250.50 231.44,250.49 231.68,250.42 231.92,250.29 232.15,250.10 232.39,249.84 232.63,249.52 232.87,249.14 233.10,248.71 233.34,248.21 233.58,247.65 233.81,247.03 234.05,246.36 234.29,245.63 234.52,244.85 234.76,244.01 235.00,243.13 235.23,242.19 235.47,241.21 235.71,240.18 235.94,239.10 236.18,237.98 236.42,236.82 236.66,235.62 236.89,234.39 237.13,233.12 237.37,231.82 237.60,230.49 237.84,229.13 238.08,227.74 238.31,226.33 238.55,224.90 238.79,223.46 239.02,222.00 239.26,220.52 239.50,219.04 239.74,217.55 239.97,216.05 240.21,214.55 240.45,213.05 240.68,211.55 240.92,210.06 241.16,208.58 241.39,207.11 241.63,205.65 241.87,204.21 242.10,202.78 242.34,201.38 242.58,200.00 242.81,198.65 243.05,197.32 243.29,196.02 243.53,194.76 243.76,193.53 244.00,192.34 244.24,191.19 244.47,190.08 244.71,189.01 244.95,187.99 245.18,187.02 245.42,186.09 245.66,185.21 245.89,184.39 246.13,183.62 246.37,182.90 246.60,182.24 246.84,181.64 247.08,181.09 247.32,180.60 247.55,180.17 247.79,179.81 248.03,179.50 248.26,179.26 248.50,179.08" fill="none" stroke="#1010f0" stroke-width="1.65" stroke-linejoin="round"/>
<rect x="35.3" y="168.6" width="213.2" height="92.20000000000002" fill="none" stroke="#1a1a1a" stroke-width="1.2"/>
<path d="M63.73,260.8v-3M63.73,168.6v3M92.15,260.8v-3M92.15,168.6v3M120.58,260.8v-3M120.58,168.6v3M149.01,260.8v-3M149.01,168.6v3M177.43,260.8v-3M177.43,168.6v3M205.86,260.8v-3M205.86,168.6v3M234.29,260.8v-3M234.29,168.6v3M35.3,253.12h2.5M248.5,253.12h-2.5M35.3,245.43h4M248.5,245.43h-4M35.3,237.75h2.5M248.5,237.75h-2.5M35.3,230.07h4M248.5,230.07h-4M35.3,222.38h2.5M248.5,222.38h-2.5M35.3,214.70h4M248.5,214.70h-4M35.3,207.02h2.5M248.5,207.02h-2.5M35.3,199.33h4M248.5,199.33h-4M35.3,191.65h2.5M248.5,191.65h-2.5M35.3,183.97h4M248.5,183.97h-4M35.3,176.28h2.5M248.5,176.28h-2.5" stroke="#000" stroke-width="1.1" fill="none"/>
<text x="30.7" y="264.7" text-anchor="end" class="t">-3</text>
<text x="30.7" y="249.3" text-anchor="end" class="t">-2</text>
<text x="30.7" y="234.0" text-anchor="end" class="t">-1</text>
<text x="30.7" y="218.6" text-anchor="end" class="t">0</text>
<text x="30.7" y="203.2" text-anchor="end" class="t">1</text>
<text x="30.7" y="187.9" text-anchor="end" class="t">2</text>
<text x="30.7" y="172.5" text-anchor="end" class="t">3</text>
<text x="35.3" y="273.7" text-anchor="middle" class="t">0</text>
<text x="63.7" y="273.7" text-anchor="middle" class="t">1</text>
<text x="92.2" y="273.7" text-anchor="middle" class="t">2</text>
<text x="120.6" y="273.7" text-anchor="middle" class="t">3</text>
<text x="149.0" y="273.7" text-anchor="middle" class="t">4</text>
<text x="177.4" y="273.7" text-anchor="middle" class="t">5</text>
<text x="205.9" y="273.7" text-anchor="middle" class="t">6</text>
<text x="234.3" y="273.7" text-anchor="middle" class="t">7</text>
<text x="45.9" y="184.5" class="p">(c)</text>
<text transform="translate(12.8,214.0) rotate(-90)" text-anchor="middle" class="l">Amplitude (rad)</text>
<text x="119.6" y="286.2" class="l" textLength="49.5" lengthAdjust="spacingAndGlyphs">Time (ms)</text>
<clipPath id="ce"><rect x="34.5" y="293.7" width="213.5" height="92.5"/></clipPath>
<polyline clip-path="url(#ce)" points="34.50,302.64 34.74,302.68 34.97,302.78 35.21,302.95 35.45,303.18 35.69,303.48 35.92,303.85 36.16,304.29 36.40,304.79 36.63,305.35 36.87,305.97 37.11,306.66 37.35,307.41 37.58,308.22 37.82,309.08 38.06,310.00 38.30,310.98 38.53,312.01 38.77,313.09 39.01,314.22 39.24,315.39 39.48,316.62 39.72,317.88 39.96,319.19 40.19,320.53 40.43,321.91 40.67,323.33 40.91,324.77 41.14,326.25 41.38,327.75 41.62,329.27 41.85,330.82 42.09,332.38 42.33,333.96 42.57,335.55 42.80,337.15 43.04,338.76 43.28,340.38 43.51,341.99 43.75,343.60 43.99,345.21 44.23,346.81 44.46,348.41 44.70,349.98 44.94,351.55 45.17,353.09 45.41,354.62 45.65,356.12 45.89,357.59 46.12,359.04 46.36,360.45 46.60,361.83 46.84,363.18 47.07,364.49 47.31,365.75 47.55,366.97 47.78,368.15 48.02,369.28 48.26,370.36 48.50,371.39 48.73,372.36 48.97,373.29 49.21,374.15 49.45,374.96 49.68,375.71 49.92,376.39 50.16,377.02 50.39,377.58 50.63,378.08 50.87,378.51 51.11,378.88 51.34,379.19 51.58,379.42 51.82,379.59 52.05,379.69 52.29,379.72 52.53,379.69 52.77,379.59 53.00,379.42 53.24,379.19 53.48,378.88 53.72,378.51 53.95,378.08 54.19,377.58 54.43,377.02 54.66,376.39 54.90,375.71 55.14,374.96 55.38,374.15 55.61,373.29 55.85,372.36 56.09,371.39 56.32,370.36 56.56,369.28 56.80,368.15 57.04,366.97 57.27,365.75 57.51,364.49 57.75,363.18 57.98,361.83 58.22,360.45 58.46,359.04 58.70,357.59 58.93,356.12 59.17,354.62 59.41,353.09 59.65,351.55 59.88,349.98 60.12,348.41 60.36,346.81 60.59,345.21 60.83,343.60 61.07,341.99 61.31,340.38 61.54,338.76 61.78,337.15 62.02,335.55 62.25,333.96 62.49,332.38 62.73,330.82 62.97,329.27 63.20,327.75 63.44,326.25 63.68,324.77 63.92,323.33 64.15,321.91 64.39,320.53 64.63,319.19 64.86,317.88 65.10,316.62 65.34,315.39 65.58,314.22 65.81,313.09 66.05,312.01 66.29,310.98 66.53,310.00 66.76,309.08 67.00,308.22 67.24,307.41 67.47,306.66 67.71,305.97 67.95,305.35 68.19,304.79 68.42,304.29 68.66,303.85 68.90,303.48 69.13,303.18 69.37,302.95 69.61,302.78 69.85,302.68 70.08,302.64 70.32,302.68 70.56,302.78 70.79,302.95 71.03,303.18 71.27,303.48 71.51,303.85 71.74,304.29 71.98,304.79 72.22,305.35 72.46,305.97 72.69,306.66 72.93,307.41 73.17,308.22 73.40,309.08 73.64,310.00 73.88,310.98 74.12,312.01 74.35,313.09 74.59,314.22 74.83,315.39 75.06,316.62 75.30,317.88 75.54,319.19 75.78,320.53 76.01,321.91 76.25,323.33 76.49,324.77 76.73,326.25 76.96,327.75 77.20,329.27 77.44,330.82 77.67,332.38 77.91,333.96 78.15,335.55 78.39,337.15 78.62,338.76 78.86,340.38 79.10,341.99 79.34,343.60 79.57,345.21 79.81,346.81 80.05,348.41 80.28,349.98 80.52,351.55 80.76,353.09 81.00,354.62 81.23,356.12 81.47,357.59 81.71,359.04 81.94,360.45 82.18,361.83 82.42,363.18 82.66,364.49 82.89,365.75 83.13,366.97 83.37,368.15 83.61,369.28 83.84,370.36 84.08,371.39 84.32,372.36 84.55,373.29 84.79,374.15 85.03,374.96 85.27,375.71 85.50,376.39 85.74,377.02 85.98,377.58 86.21,378.08 86.45,378.51 86.69,378.88 86.93,379.19 87.16,379.42 87.40,379.59 87.64,379.69 87.88,379.72 88.11,379.69 88.35,379.59 88.59,379.42 88.82,379.19 89.06,378.88 89.30,378.51 89.54,378.08 89.77,377.58 90.01,377.02 90.25,376.39 90.48,375.71 90.72,374.96 90.96,374.15 91.20,373.29 91.43,372.36 91.67,371.39 91.91,370.36 92.14,369.28 92.38,368.15 92.62,366.97 92.86,365.75 93.09,364.49 93.33,363.18 93.57,361.83 93.81,360.45 94.04,359.04 94.28,357.59 94.52,356.12 94.75,354.62 94.99,353.09 95.23,351.55 95.47,349.98 95.70,348.41 95.94,346.81 96.18,345.21 96.41,343.60 96.65,341.99 96.89,340.38 97.13,338.76 97.36,337.15 97.60,335.55 97.84,333.96 98.08,332.38 98.31,330.82 98.55,329.27 98.79,327.75 99.02,326.25 99.26,324.77 99.50,323.33 99.74,321.91 99.97,320.53 100.21,319.19 100.45,317.88 100.69,316.62 100.92,315.39 101.16,314.22 101.40,313.09 101.63,312.01 101.87,310.98 102.11,310.00 102.35,309.08 102.58,308.22 102.82,307.41 103.06,306.66 103.29,305.97 103.53,305.35 103.77,304.79 104.01,304.29 104.24,303.85 104.48,303.48 104.72,303.18 104.95,302.95 105.19,302.78 105.43,302.68 105.67,302.64 105.90,302.68 106.14,302.78 106.38,302.95 106.62,303.18 106.85,303.48 107.09,303.85 107.33,304.29 107.56,304.79 107.80,305.35 108.04,305.97 108.28,306.66 108.51,307.41 108.75,308.22 108.99,309.08 109.22,310.00 109.46,310.98 109.70,312.01 109.94,313.09 110.17,314.22 110.41,315.39 110.65,316.62 110.89,317.88 111.12,319.19 111.36,320.53 111.60,321.91 111.83,323.33 112.07,324.77 112.31,326.25 112.55,327.75 112.78,329.27 113.02,330.82 113.26,332.38 113.49,333.96 113.73,335.55 113.97,337.15 114.21,338.76 114.44,340.38 114.68,341.99 114.92,343.60 115.16,345.21 115.39,346.81 115.63,348.41 115.87,349.98 116.10,351.55 116.34,353.09 116.58,354.62 116.82,356.12 117.05,357.59 117.29,359.04 117.53,360.45 117.77,361.83 118.00,363.18 118.24,364.49 118.48,365.75 118.71,366.97 118.95,368.15 119.19,369.28 119.43,370.36 119.66,371.39 119.90,372.36 120.14,373.29 120.37,374.15 120.61,374.96 120.85,375.71 121.09,376.39 121.32,377.02 121.56,377.58 121.80,378.08 122.04,378.51 122.27,378.88 122.51,379.19 122.75,379.42 122.98,379.59 123.22,379.69 123.46,379.72 123.70,379.69 123.93,379.59 124.17,379.42 124.41,379.19 124.64,378.88 124.88,378.51 125.12,378.08 125.36,377.58 125.59,377.02 125.83,376.39 126.07,375.71 126.31,374.96 126.54,374.15 126.78,373.29 127.02,372.36 127.25,371.39 127.49,370.36 127.73,369.28 127.97,368.15 128.20,366.97 128.44,365.75 128.68,364.49 128.91,363.18 129.15,361.83 129.39,360.45 129.63,359.04 129.86,357.59 130.10,356.12 130.34,354.62 130.57,353.09 130.81,351.55 131.05,349.98 131.29,348.41 131.52,346.81 131.76,345.21 132.00,343.60 132.24,341.99 132.47,340.38 132.71,338.76 132.95,337.15 133.18,335.55 133.42,333.96 133.66,332.38 133.90,330.82 134.13,329.27 134.37,327.75 134.61,326.25 134.84,324.77 135.08,323.33 135.32,321.91 135.56,320.53 135.79,319.19 136.03,317.88 136.27,316.62 136.51,315.39 136.74,314.22 136.98,313.09 137.22,312.01 137.45,310.98 137.69,310.00 137.93,309.08 138.17,308.22 138.40,307.41 138.64,306.66 138.88,305.97 139.12,305.35 139.35,304.79 139.59,304.29 139.83,303.85 140.06,303.48 140.30,303.18 140.54,302.95 140.78,302.78 141.01,302.68 141.25,302.64 141.49,302.68 141.72,302.78 141.96,302.95 142.20,303.18 142.44,303.48 142.67,303.85 142.91,304.29 143.15,304.79 143.38,305.35 143.62,305.97 143.86,306.66 144.10,307.41 144.33,308.22 144.57,309.08 144.81,310.00 145.05,310.98 145.28,312.01 145.52,313.09 145.76,314.22 145.99,315.39 146.23,316.62 146.47,317.88 146.71,319.19 146.94,320.53 147.18,321.91 147.42,323.33 147.66,324.77 147.89,326.25 148.13,327.75 148.37,329.27 148.60,330.82 148.84,332.38 149.08,333.96 149.32,335.55 149.55,337.15 149.79,338.76 150.03,340.38 150.26,341.99 150.50,343.60 150.74,345.21 150.98,346.81 151.21,348.41 151.45,349.98 151.69,351.55 151.93,353.09 152.16,354.62 152.40,356.12 152.64,357.59 152.87,359.04 153.11,360.45 153.35,361.83 153.59,363.18 153.82,364.49 154.06,365.75 154.30,366.97 154.53,368.15 154.77,369.28 155.01,370.36 155.25,371.39 155.48,372.36 155.72,373.29 155.96,374.15 156.19,374.96 156.43,375.71 156.67,376.39 156.91,377.02 157.14,377.58 157.38,378.08 157.62,378.51 157.86,378.88 158.09,379.19 158.33,379.42 158.57,379.59 158.80,379.69 159.04,379.72 159.28,379.69 159.52,379.59 159.75,379.42 159.99,379.19 160.23,378.88 160.46,378.51 160.70,378.08 160.94,377.58 161.18,377.02 161.41,376.39 161.65,375.71 161.89,374.96 162.13,374.15 162.36,373.29 162.60,372.36 162.84,371.39 163.07,370.36 163.31,369.28 163.55,368.15 163.79,366.97 164.02,365.75 164.26,364.49 164.50,363.18 164.74,361.83 164.97,360.45 165.21,359.04 165.45,357.59 165.68,356.12 165.92,354.62 166.16,353.09 166.40,351.55 166.63,349.98 166.87,348.41 167.11,346.81 167.34,345.21 167.58,343.60 167.82,341.99 168.06,340.38 168.29,338.76 168.53,337.15 168.77,335.55 169.00,333.96 169.24,332.38 169.48,330.82 169.72,329.27 169.95,327.75 170.19,326.25 170.43,324.77 170.67,323.33 170.90,321.91 171.14,320.53 171.38,319.19 171.61,317.88 171.85,316.62 172.09,315.39 172.33,314.22 172.56,313.09 172.80,312.01 173.04,310.98 173.28,310.00 173.51,309.08 173.75,308.22 173.99,307.41 174.22,306.66 174.46,305.97 174.70,305.35 174.94,304.79 175.17,304.29 175.41,303.85 175.65,303.48 175.88,303.18 176.12,302.95 176.36,302.78 176.60,302.68 176.83,302.64 177.07,302.68 177.31,302.78 177.55,302.95 177.78,303.18 178.02,303.48 178.26,303.85 178.49,304.29 178.73,304.79 178.97,305.35 179.21,305.97 179.44,306.66 179.68,307.41 179.92,308.22 180.15,309.08 180.39,310.00 180.63,310.98 180.87,312.01 181.10,313.09 181.34,314.22 181.58,315.39 181.81,316.62 182.05,317.88 182.29,319.19 182.53,320.53 182.76,321.91 183.00,323.33 183.24,324.77 183.48,326.25 183.71,327.75 183.95,329.27 184.19,330.82 184.42,332.38 184.66,333.96 184.90,335.55 185.14,337.15 185.37,338.76 185.61,340.38 185.85,341.99 186.09,343.60 186.32,345.21 186.56,346.81 186.80,348.41 187.03,349.98 187.27,351.55 187.51,353.09 187.75,354.62 187.98,356.12 188.22,357.59 188.46,359.04 188.69,360.45 188.93,361.83 189.17,363.18 189.41,364.49 189.64,365.75 189.88,366.97 190.12,368.15 190.35,369.28 190.59,370.36 190.83,371.39 191.07,372.36 191.30,373.29 191.54,374.15 191.78,374.96 192.02,375.71 192.25,376.39 192.49,377.02 192.73,377.58 192.96,378.08 193.20,378.51 193.44,378.88 193.68,379.19 193.91,379.42 194.15,379.59 194.39,379.69 194.62,379.72 194.86,379.69 195.10,379.59 195.34,379.42 195.57,379.19 195.81,378.88 196.05,378.51 196.29,378.08 196.52,377.58 196.76,377.02 197.00,376.39 197.23,375.71 197.47,374.96 197.71,374.15 197.95,373.29 198.18,372.36 198.42,371.39 198.66,370.36 198.90,369.28 199.13,368.15 199.37,366.97 199.61,365.75 199.84,364.49 200.08,363.18 200.32,361.83 200.56,360.45 200.79,359.04 201.03,357.59 201.27,356.12 201.50,354.62 201.74,353.09 201.98,351.55 202.22,349.98 202.45,348.41 202.69,346.81 202.93,345.21 203.16,343.60 203.40,341.99 203.64,340.38 203.88,338.76 204.11,337.15 204.35,335.55 204.59,333.96 204.83,332.38 205.06,330.82 205.30,329.27 205.54,327.75 205.77,326.25 206.01,324.77 206.25,323.33 206.49,321.91 206.72,320.53 206.96,319.19 207.20,317.88 207.44,316.62 207.67,315.39 207.91,314.22 208.15,313.09 208.38,312.01 208.62,310.98 208.86,310.00 209.10,309.08 209.33,308.22 209.57,307.41 209.81,306.66 210.04,305.97 210.28,305.35 210.52,304.79 210.76,304.29 210.99,303.85 211.23,303.48 211.47,303.18 211.70,302.95 211.94,302.78 212.18,302.68 212.42,302.64 212.65,302.68 212.89,302.78 213.13,302.95 213.37,303.18 213.60,303.48 213.84,303.85 214.08,304.29 214.31,304.79 214.55,305.35 214.79,305.97 215.03,306.66 215.26,307.41 215.50,308.22 215.74,309.08 215.97,310.00 216.21,310.98 216.45,312.01 216.69,313.09 216.92,314.22 217.16,315.39 217.40,316.62 217.64,317.88 217.87,319.19 218.11,320.53 218.35,321.91 218.58,323.33 218.82,324.77 219.06,326.25 219.30,327.75 219.53,329.27 219.77,330.82 220.01,332.38 220.25,333.96 220.48,335.55 220.72,337.15 220.96,338.76 221.19,340.38 221.43,341.99 221.67,343.60 221.91,345.21 222.14,346.81 222.38,348.41 222.62,349.98 222.85,351.55 223.09,353.09 223.33,354.62 223.57,356.12 223.80,357.59 224.04,359.04 224.28,360.45 224.51,361.83 224.75,363.18 224.99,364.49 225.23,365.75 225.46,366.97 225.70,368.15 225.94,369.28 226.18,370.36 226.41,371.39 226.65,372.36 226.89,373.29 227.12,374.15 227.36,374.96 227.60,375.71 227.84,376.39 228.07,377.02 228.31,377.58 228.55,378.08 228.78,378.51 229.02,378.88 229.26,379.19 229.50,379.42 229.73,379.59 229.97,379.69 230.21,379.72 230.45,379.69 230.68,379.59 230.92,379.42 231.16,379.19 231.39,378.88 231.63,378.51 231.87,378.08 232.11,377.58 232.34,377.02 232.58,376.39 232.82,375.71 233.05,374.96 233.29,374.15 233.53,373.29 233.77,372.36 234.00,371.39 234.24,370.36 234.48,369.28 234.72,368.15 234.95,366.97 235.19,365.75 235.43,364.49 235.66,363.18 235.90,361.83 236.14,360.45 236.38,359.04 236.61,357.59 236.85,356.12 237.09,354.62 237.32,353.09 237.56,351.55 237.80,349.98 238.04,348.41 238.27,346.81 238.51,345.21 238.75,343.60 238.99,341.99 239.22,340.38 239.46,338.76 239.70,337.15 239.93,335.55 240.17,333.96 240.41,332.38 240.65,330.82 240.88,329.27 241.12,327.75 241.36,326.25 241.59,324.77 241.83,323.33 242.07,321.91 242.31,320.53 242.54,319.19 242.78,317.88 243.02,316.62 243.26,315.39 243.49,314.22 243.73,313.09 243.97,312.01 244.20,310.98 244.44,310.00 244.68,309.08 244.92,308.22 245.15,307.41 245.39,306.66 245.63,305.97 245.86,305.35 246.10,304.79 246.34,304.29 246.58,303.85 246.81,303.48 247.05,303.18 247.29,302.95 247.53,302.78 247.76,302.68 248.00,302.64" fill="none" stroke="#f01010" stroke-width="1.8" stroke-linejoin="round"/>
<polyline clip-path="url(#ce)" points="34.50,309.14 34.74,309.13 34.97,309.22 35.21,309.42 35.45,309.73 35.69,310.14 35.92,310.64 36.16,311.24 36.40,311.93 36.63,312.69 36.87,313.53 37.11,314.44 37.35,315.41 37.58,316.42 37.82,317.48 38.06,318.57 38.30,319.69 38.53,320.82 38.77,321.96 39.01,323.10 39.24,324.24 39.48,325.36 39.72,326.47 39.96,327.55 40.19,328.60 40.43,329.62 40.67,330.60 40.91,331.55 41.14,332.46 41.38,333.33 41.62,334.17 41.85,334.97 42.09,335.74 42.33,336.48 42.57,337.19 42.80,337.89 43.04,338.56 43.28,339.23 43.51,339.88 43.75,340.54 43.99,341.20 44.23,341.88 44.46,342.57 44.70,343.28 44.94,344.01 45.17,344.77 45.41,345.57 45.65,346.40 45.89,347.26 46.12,348.16 46.36,349.10 46.60,350.08 46.84,351.09 47.07,352.14 47.31,353.21 47.55,354.31 47.78,355.43 48.02,356.57 48.26,357.71 48.50,358.85 48.73,359.99 48.97,361.11 49.21,362.20 49.45,363.27 49.68,364.29 49.92,365.27 50.16,366.19 50.39,367.04 50.63,367.82 50.87,368.53 51.11,369.14 51.34,369.67 51.58,370.10 51.82,370.42 52.05,370.65 52.29,370.76 52.53,370.77 52.77,370.68 53.00,370.48 53.24,370.17 53.48,369.76 53.72,369.26 53.95,368.66 54.19,367.97 54.43,367.21 54.66,366.37 54.90,365.46 55.14,364.49 55.38,363.48 55.61,362.42 55.85,361.33 56.09,360.21 56.32,359.08 56.56,357.94 56.80,356.80 57.04,355.66 57.27,354.54 57.51,353.43 57.75,352.35 57.98,351.30 58.22,350.28 58.46,349.30 58.70,348.35 58.93,347.44 59.17,346.57 59.41,345.73 59.65,344.93 59.88,344.16 60.12,343.42 60.36,342.71 60.59,342.01 60.83,341.34 61.07,340.67 61.31,340.02 61.54,339.36 61.78,338.70 62.02,338.02 62.25,337.33 62.49,336.62 62.73,335.89 62.97,335.13 63.20,334.33 63.44,333.50 63.68,332.64 63.92,331.74 64.15,330.80 64.39,329.82 64.63,328.81 64.86,327.76 65.10,326.69 65.34,325.59 65.58,324.47 65.81,323.33 66.05,322.19 66.29,321.05 66.53,319.91 66.76,318.79 67.00,317.70 67.24,316.63 67.47,315.61 67.71,314.63 67.95,313.71 68.19,312.86 68.42,312.08 68.66,311.37 68.90,310.76 69.13,310.23 69.37,309.80 69.61,309.48 69.85,309.25 70.08,309.14 70.32,309.13 70.56,309.22 70.79,309.42 71.03,309.73 71.27,310.14 71.51,310.64 71.74,311.24 71.98,311.93 72.22,312.69 72.46,313.53 72.69,314.44 72.93,315.41 73.17,316.42 73.40,317.48 73.64,318.57 73.88,319.69 74.12,320.82 74.35,321.96 74.59,323.10 74.83,324.24 75.06,325.36 75.30,326.47 75.54,327.55 75.78,328.60 76.01,329.62 76.25,330.60 76.49,331.55 76.73,332.46 76.96,333.33 77.20,334.17 77.44,334.97 77.67,335.74 77.91,336.48 78.15,337.19 78.39,337.89 78.62,338.56 78.86,339.23 79.10,339.88 79.34,340.54 79.57,341.20 79.81,341.88 80.05,342.57 80.28,343.28 80.52,344.01 80.76,344.77 81.00,345.57 81.23,346.40 81.47,347.26 81.71,348.16 81.94,349.10 82.18,350.08 82.42,351.09 82.66,352.14 82.89,353.21 83.13,354.31 83.37,355.43 83.61,356.57 83.84,357.71 84.08,358.85 84.32,359.99 84.55,361.11 84.79,362.20 85.03,363.27 85.27,364.29 85.50,365.27 85.74,366.19 85.98,367.04 86.21,367.82 86.45,368.53 86.69,369.14 86.93,369.67 87.16,370.10 87.40,370.42 87.64,370.65 87.88,370.76 88.11,370.77 88.35,370.68 88.59,370.48 88.82,370.17 89.06,369.76 89.30,369.26 89.54,368.66 89.77,367.97 90.01,367.21 90.25,366.37 90.48,365.46 90.72,364.49 90.96,363.48 91.20,362.42 91.43,361.33 91.67,360.21 91.91,359.08 92.14,357.94 92.38,356.80 92.62,355.66 92.86,354.54 93.09,353.43 93.33,352.35 93.57,351.30 93.81,350.28 94.04,349.30 94.28,348.35 94.52,347.44 94.75,346.57 94.99,345.73 95.23,344.93 95.47,344.16 95.70,343.42 95.94,342.71 96.18,342.01 96.41,341.34 96.65,340.67 96.89,340.02 97.13,339.36 97.36,338.70 97.60,338.02 97.84,337.33 98.08,336.62 98.31,335.89 98.55,335.13 98.79,334.33 99.02,333.50 99.26,332.64 99.50,331.74 99.74,330.80 99.97,329.82 100.21,328.81 100.45,327.76 100.69,326.69 100.92,325.59 101.16,324.47 101.40,323.33 101.63,322.19 101.87,321.05 102.11,319.91 102.35,318.79 102.58,317.70 102.82,316.63 103.06,315.61 103.29,314.63 103.53,313.71 103.77,312.86 104.01,312.08 104.24,311.37 104.48,310.76 104.72,310.23 104.95,309.80 105.19,309.48 105.43,309.25 105.67,309.14 105.90,309.13 106.14,309.22 106.38,309.42 106.62,309.73 106.85,310.14 107.09,310.64 107.33,311.24 107.56,311.93 107.80,312.69 108.04,313.53 108.28,314.44 108.51,315.41 108.75,316.42 108.99,317.48 109.22,318.57 109.46,319.69 109.70,320.82 109.94,321.96 110.17,323.10 110.41,324.24 110.65,325.36 110.89,326.47 111.12,327.55 111.36,328.60 111.60,329.62 111.83,330.60 112.07,331.55 112.31,332.46 112.55,333.33 112.78,334.17 113.02,334.97 113.26,335.74 113.49,336.48 113.73,337.19 113.97,337.89 114.21,338.56 114.44,339.23 114.68,339.88 114.92,340.54 115.16,341.20 115.39,341.88 115.63,342.57 115.87,343.28 116.10,344.01 116.34,344.77 116.58,345.57 116.82,346.40 117.05,347.26 117.29,348.16 117.53,349.10 117.77,350.08 118.00,351.09 118.24,352.14 118.48,353.21 118.71,354.31 118.95,355.43 119.19,356.57 119.43,357.71 119.66,358.85 119.90,359.99 120.14,361.11 120.37,362.20 120.61,363.27 120.85,364.29 121.09,365.27 121.32,366.19 121.56,367.04 121.80,367.82 122.04,368.53 122.27,369.14 122.51,369.67 122.75,370.10 122.98,370.42 123.22,370.65 123.46,370.76 123.70,370.77 123.93,370.68 124.17,370.48 124.41,370.17 124.64,369.76 124.88,369.26 125.12,368.66 125.36,367.97 125.59,367.21 125.83,366.37 126.07,365.46 126.31,364.49 126.54,363.48 126.78,362.42 127.02,361.33 127.25,360.21 127.49,359.08 127.73,357.94 127.97,356.80 128.20,355.66 128.44,354.54 128.68,353.43 128.91,352.35 129.15,351.30 129.39,350.28 129.63,349.30 129.86,348.35 130.10,347.44 130.34,346.57 130.57,345.73 130.81,344.93 131.05,344.16 131.29,343.42 131.52,342.71 131.76,342.01 132.00,341.34 132.24,340.67 132.47,340.02 132.71,339.36 132.95,338.70 133.18,338.02 133.42,337.33 133.66,336.62 133.90,335.89 134.13,335.13 134.37,334.33 134.61,333.50 134.84,332.64 135.08,331.74 135.32,330.80 135.56,329.82 135.79,328.81 136.03,327.76 136.27,326.69 136.51,325.59 136.74,324.47 136.98,323.33 137.22,322.19 137.45,321.05 137.69,319.91 137.93,318.79 138.17,317.70 138.40,316.63 138.64,315.61 138.88,314.63 139.12,313.71 139.35,312.86 139.59,312.08 139.83,311.37 140.06,310.76 140.30,310.23 140.54,309.80 140.78,309.48 141.01,309.25 141.25,309.14 141.49,309.13 141.72,309.22 141.96,309.42 142.20,309.73 142.44,310.14 142.67,310.64 142.91,311.24 143.15,311.93 143.38,312.69 143.62,313.53 143.86,314.44 144.10,315.41 144.33,316.42 144.57,317.48 144.81,318.57 145.05,319.69 145.28,320.82 145.52,321.96 145.76,323.10 145.99,324.24 146.23,325.36 146.47,326.47 146.71,327.55 146.94,328.60 147.18,329.62 147.42,330.60 147.66,331.55 147.89,332.46 148.13,333.33 148.37,334.17 148.60,334.97 148.84,335.74 149.08,336.48 149.32,337.19 149.55,337.89 149.79,338.56 150.03,339.23 150.26,339.88 150.50,340.54 150.74,341.20 150.98,341.88 151.21,342.57 151.45,343.28 151.69,344.01 151.93,344.77 152.16,345.57 152.40,346.40 152.64,347.26 152.87,348.16 153.11,349.10 153.35,350.08 153.59,351.09 153.82,352.14 154.06,353.21 154.30,354.31 154.53,355.43 154.77,356.57 155.01,357.71 155.25,358.85 155.48,359.99 155.72,361.11 155.96,362.20 156.19,363.27 156.43,364.29 156.67,365.27 156.91,366.19 157.14,367.04 157.38,367.82 157.62,368.53 157.86,369.14 158.09,369.67 158.33,370.10 158.57,370.42 158.80,370.65 159.04,370.76 159.28,370.77 159.52,370.68 159.75,370.48 159.99,370.17 160.23,369.76 160.46,369.26 160.70,368.66 160.94,367.97 161.18,367.21 161.41,366.37 161.65,365.46 161.89,364.49 162.13,363.48 162.36,362.42 162.60,361.33 162.84,360.21 163.07,359.08 163.31,357.94 163.55,356.80 163.79,355.66 164.02,354.54 164.26,353.43 164.50,352.35 164.74,351.30 164.97,350.28 165.21,349.30 165.45,348.35 165.68,347.44 165.92,346.57 166.16,345.73 166.40,344.93 166.63,344.16 166.87,343.42 167.11,342.71 167.34,342.01 167.58,341.34 167.82,340.67 168.06,340.02 168.29,339.36 168.53,338.70 168.77,338.02 169.00,337.33 169.24,336.62 169.48,335.89 169.72,335.13 169.95,334.33 170.19,333.50 170.43,332.64 170.67,331.74 170.90,330.80 171.14,329.82 171.38,328.81 171.61,327.76 171.85,326.69 172.09,325.59 172.33,324.47 172.56,323.33 172.80,322.19 173.04,321.05 173.28,319.91 173.51,318.79 173.75,317.70 173.99,316.63 174.22,315.61 174.46,314.63 174.70,313.71 174.94,312.86 175.17,312.08 175.41,311.37 175.65,310.76 175.88,310.23 176.12,309.80 176.36,309.48 176.60,309.25 176.83,309.14 177.07,309.13 177.31,309.22 177.55,309.42 177.78,309.73 178.02,310.14 178.26,310.64 178.49,311.24 178.73,311.93 178.97,312.69 179.21,313.53 179.44,314.44 179.68,315.41 179.92,316.42 180.15,317.48 180.39,318.57 180.63,319.69 180.87,320.82 181.10,321.96 181.34,323.10 181.58,324.24 181.81,325.36 182.05,326.47 182.29,327.55 182.53,328.60 182.76,329.62 183.00,330.60 183.24,331.55 183.48,332.46 183.71,333.33 183.95,334.17 184.19,334.97 184.42,335.74 184.66,336.48 184.90,337.19 185.14,337.89 185.37,338.56 185.61,339.23 185.85,339.88 186.09,340.54 186.32,341.20 186.56,341.88 186.80,342.57 187.03,343.28 187.27,344.01 187.51,344.77 187.75,345.57 187.98,346.40 188.22,347.26 188.46,348.16 188.69,349.10 188.93,350.08 189.17,351.09 189.41,352.14 189.64,353.21 189.88,354.31 190.12,355.43 190.35,356.57 190.59,357.71 190.83,358.85 191.07,359.99 191.30,361.11 191.54,362.20 191.78,363.27 192.02,364.29 192.25,365.27 192.49,366.19 192.73,367.04 192.96,367.82 193.20,368.53 193.44,369.14 193.68,369.67 193.91,370.10 194.15,370.42 194.39,370.65 194.62,370.76 194.86,370.77 195.10,370.68 195.34,370.48 195.57,370.17 195.81,369.76 196.05,369.26 196.29,368.66 196.52,367.97 196.76,367.21 197.00,366.37 197.23,365.46 197.47,364.49 197.71,363.48 197.95,362.42 198.18,361.33 198.42,360.21 198.66,359.08 198.90,357.94 199.13,356.80 199.37,355.66 199.61,354.54 199.84,353.43 200.08,352.35 200.32,351.30 200.56,350.28 200.79,349.30 201.03,348.35 201.27,347.44 201.50,346.57 201.74,345.73 201.98,344.93 202.22,344.16 202.45,343.42 202.69,342.71 202.93,342.01 203.16,341.34 203.40,340.67 203.64,340.02 203.88,339.36 204.11,338.70 204.35,338.02 204.59,337.33 204.83,336.62 205.06,335.89 205.30,335.13 205.54,334.33 205.77,333.50 206.01,332.64 206.25,331.74 206.49,330.80 206.72,329.82 206.96,328.81 207.20,327.76 207.44,326.69 207.67,325.59 207.91,324.47 208.15,323.33 208.38,322.19 208.62,321.05 208.86,319.91 209.10,318.79 209.33,317.70 209.57,316.63 209.81,315.61 210.04,314.63 210.28,313.71 210.52,312.86 210.76,312.08 210.99,311.37 211.23,310.76 211.47,310.23 211.70,309.80 211.94,309.48 212.18,309.25 212.42,309.14 212.65,309.13 212.89,309.22 213.13,309.42 213.37,309.73 213.60,310.14 213.84,310.64 214.08,311.24 214.31,311.93 214.55,312.69 214.79,313.53 215.03,314.44 215.26,315.41 215.50,316.42 215.74,317.48 215.97,318.57 216.21,319.69 216.45,320.82 216.69,321.96 216.92,323.10 217.16,324.24 217.40,325.36 217.64,326.47 217.87,327.55 218.11,328.60 218.35,329.62 218.58,330.60 218.82,331.55 219.06,332.46 219.30,333.33 219.53,334.17 219.77,334.97 220.01,335.74 220.25,336.48 220.48,337.19 220.72,337.89 220.96,338.56 221.19,339.23 221.43,339.88 221.67,340.54 221.91,341.20 222.14,341.88 222.38,342.57 222.62,343.28 222.85,344.01 223.09,344.77 223.33,345.57 223.57,346.40 223.80,347.26 224.04,348.16 224.28,349.10 224.51,350.08 224.75,351.09 224.99,352.14 225.23,353.21 225.46,354.31 225.70,355.43 225.94,356.57 226.18,357.71 226.41,358.85 226.65,359.99 226.89,361.11 227.12,362.20 227.36,363.27 227.60,364.29 227.84,365.27 228.07,366.19 228.31,367.04 228.55,367.82 228.78,368.53 229.02,369.14 229.26,369.67 229.50,370.10 229.73,370.42 229.97,370.65 230.21,370.76 230.45,370.77 230.68,370.68 230.92,370.48 231.16,370.17 231.39,369.76 231.63,369.26 231.87,368.66 232.11,367.97 232.34,367.21 232.58,366.37 232.82,365.46 233.05,364.49 233.29,363.48 233.53,362.42 233.77,361.33 234.00,360.21 234.24,359.08 234.48,357.94 234.72,356.80 234.95,355.66 235.19,354.54 235.43,353.43 235.66,352.35 235.90,351.30 236.14,350.28 236.38,349.30 236.61,348.35 236.85,347.44 237.09,346.57 237.32,345.73 237.56,344.93 237.80,344.16 238.04,343.42 238.27,342.71 238.51,342.01 238.75,341.34 238.99,340.67 239.22,340.02 239.46,339.36 239.70,338.70 239.93,338.02 240.17,337.33 240.41,336.62 240.65,335.89 240.88,335.13 241.12,334.33 241.36,333.50 241.59,332.64 241.83,331.74 242.07,330.80 242.31,329.82 242.54,328.81 242.78,327.76 243.02,326.69 243.26,325.59 243.49,324.47 243.73,323.33 243.97,322.19 244.20,321.05 244.44,319.91 244.68,318.79 244.92,317.70 245.15,316.63 245.39,315.61 245.63,314.63 245.86,313.71 246.10,312.86 246.34,312.08 246.58,311.37 246.81,310.76 247.05,310.23 247.29,309.80 247.53,309.48 247.76,309.25 248.00,309.14" fill="none" stroke="#1010f0" stroke-width="1.65" stroke-linejoin="round"/>
<rect x="34.5" y="293.7" width="213.5" height="92.5" fill="none" stroke="#1a1a1a" stroke-width="1.2"/>
<path d="M62.97,386.2v-3M62.97,293.7v3M91.43,386.2v-3M91.43,293.7v3M119.90,386.2v-3M119.90,293.7v3M148.37,386.2v-3M148.37,293.7v3M176.83,386.2v-3M176.83,293.7v3M205.30,386.2v-3M205.30,293.7v3M233.77,386.2v-3M233.77,293.7v3M34.5,378.49h2.5M248.0,378.49h-2.5M34.5,370.78h4M248.0,370.78h-4M34.5,363.07h2.5M248.0,363.07h-2.5M34.5,355.37h4M248.0,355.37h-4M34.5,347.66h2.5M248.0,347.66h-2.5M34.5,339.95h4M248.0,339.95h-4M34.5,332.24h2.5M248.0,332.24h-2.5M34.5,324.53h4M248.0,324.53h-4M34.5,316.82h2.5M248.0,316.82h-2.5M34.5,309.12h4M248.0,309.12h-4M34.5,301.41h2.5M248.0,301.41h-2.5" stroke="#000" stroke-width="1.1" fill="none"/>
<text x="29.9" y="390.1" text-anchor="end" class="t">-3</text>
<text x="29.9" y="374.7" text-anchor="end" class="t">-2</text>
<text x="29.9" y="359.3" text-anchor="end" class="t">-1</text>
<text x="29.9" y="343.8" text-anchor="end" class="t">0</text>
<text x="29.9" y="328.4" text-anchor="end" class="t">1</text>
<text x="29.9" y="313.0" text-anchor="end" class="t">2</text>
<text x="29.9" y="297.6" text-anchor="end" class="t">3</text>
<text x="34.5" y="399.7" text-anchor="middle" class="t">0</text>
<text x="63.0" y="399.7" text-anchor="middle" class="t">1</text>
<text x="91.4" y="399.7" text-anchor="middle" class="t">2</text>
<text x="119.9" y="399.7" text-anchor="middle" class="t">3</text>
<text x="148.4" y="399.7" text-anchor="middle" class="t">4</text>
<text x="176.8" y="399.7" text-anchor="middle" class="t">5</text>
<text x="205.3" y="399.7" text-anchor="middle" class="t">6</text>
<text x="233.8" y="399.7" text-anchor="middle" class="t">7</text>
<text x="43.8" y="310.7" class="p">(e)</text>
<text transform="translate(12.8,338.4) rotate(-90)" text-anchor="middle" class="l">Amplitude (rad)</text>
<text x="117.4" y="412.9" class="l" textLength="48" lengthAdjust="spacingAndGlyphs">Time (ms)</text>
<clipPath id="cb"><rect x="306.3" y="38.8" width="212.90000000000003" height="92.00000000000001"/></clipPath>
<polyline clip-path="url(#cb)" points="306.25,107.02 307.94,112.65 309.63,113.77 311.88,109.27 313.57,120.53 315.26,110.39 316.38,113.77 318.07,107.02 319.76,113.77 321.45,112.65 323.14,107.02 325.39,108.71 327.08,119.96 328.20,108.14 329.89,104.77 331.58,107.02 332.71,104.20 334.39,107.58 336.08,102.51 337.77,106.45 338.90,102.51 340.02,108.14 341.15,100.83 342.84,100.26 344.53,98.01 346.37,75.99 347.37,61.75 348.50,49.00 349.64,61.75 350.64,75.99 351.64,85.95 353.53,99.14 355.78,101.39 358.03,101.95 360.29,102.51 361.97,105.33 362.84,101.26 364.27,102.68 365.69,103.39 367.11,105.52 368.53,102.68 369.95,95.57 371.37,101.97 372.80,106.94 374.22,106.23 375.64,108.36 377.06,105.52 378.48,107.65 379.91,104.10 381.33,106.94 382.75,103.39 384.17,106.23 385.59,103.39 387.01,105.52 388.44,104.10 389.86,104.81 391.28,100.55 392.70,104.81 394.12,102.68 395.55,105.52 396.97,103.39 398.39,106.94 399.81,107.65 401.23,106.23 402.65,110.50 404.08,113.34 405.50,107.65 406.92,99.12 408.34,107.65 409.76,116.90 411.18,107.65 412.61,105.52 414.03,106.94 415.45,105.52 416.00,107.65 417.42,102.68 418.84,107.65 420.27,106.23 421.69,105.52 423.11,103.39 424.53,106.23 425.95,104.10 427.37,107.65 428.80,109.08 430.22,110.50 431.64,109.08 433.06,111.21 434.48,104.81 435.91,114.05 437.33,105.52 438.75,114.76 440.17,112.63 441.59,106.23 443.01,107.65 444.44,110.50 445.86,106.94 447.28,108.36 448.70,105.52 450.12,103.39 451.55,110.50 452.97,110.50 454.39,109.08 455.81,110.50 457.23,107.65 458.65,109.08 460.08,98.41 461.50,103.39 462.92,107.65 464.34,109.08 465.76,108.36 467.18,108.36 468.61,104.81 470.03,107.65 471.45,109.08 472.87,110.50 474.53,109.08 475.95,99.12 477.37,101.97 478.80,110.50 480.22,109.08 481.64,111.92 483.06,116.18 484.48,110.50 485.91,109.08 487.33,108.36 488.75,119.03 490.17,110.50 491.59,109.08 493.01,108.36 494.44,107.65 495.86,105.52 497.28,106.23 498.70,103.39 500.12,104.81 501.55,102.68 502.97,104.81 504.39,109.79 505.81,107.65 507.23,104.81 508.65,113.34 510.08,114.05 511.50,114.76 512.92,116.18 514.34,109.08 515.76,106.94 517.18,111.92 518.61,114.05 519.74,115.47" fill="none" stroke="#f01010" stroke-width="1.65" stroke-linejoin="round"/>
<polyline clip-path="url(#cb)" points="306.25,106.45 307.94,112.65 309.63,107.02 311.32,109.83 313.01,104.77 314.69,106.45 316.38,103.64 318.07,104.20 319.76,106.45 322.01,101.39 323.70,104.77 325.39,102.51 327.08,105.33 328.77,98.01 330.45,102.51 332.14,100.83 333.83,102.51 335.52,98.01 336.65,94.63 337.77,99.14 339.46,98.01 340.59,93.51 342.27,94.63 343.40,85.07 345.37,82.70 346.37,75.59 347.37,61.35 348.51,50.25 349.64,61.35 350.64,75.59 351.64,85.55 352.78,88.40 353.49,85.55 354.48,89.11 355.62,92.67 358.03,96.89 359.16,99.14 360.29,95.76 361.97,96.89 362.84,92.01 364.27,91.30 365.69,94.86 367.11,95.57 368.53,89.17 369.95,75.66 371.37,89.17 372.80,95.57 374.22,96.28 375.64,95.57 377.06,96.28 378.48,92.01 379.91,96.99 381.33,95.57 382.75,98.41 384.17,95.57 385.59,93.44 387.01,97.70 388.44,94.86 389.86,100.55 391.28,97.70 392.70,101.97 394.12,92.01 395.55,99.83 396.97,95.57 398.39,97.70 399.81,99.12 401.23,100.55 402.65,99.83 404.08,97.70 405.50,93.44 406.92,76.37 408.34,90.59 409.76,96.28 411.18,98.41 412.61,100.55 414.03,102.68 415.45,102.68 416.00,102.68 417.42,101.26 418.84,100.55 420.27,99.83 421.69,98.41 423.11,101.26 424.53,99.83 425.95,97.70 427.37,99.12 428.80,100.55 430.22,99.83 431.64,101.26 433.06,100.55 434.48,95.57 435.91,100.55 437.33,94.15 438.75,96.99 440.17,101.26 441.59,106.23 443.01,101.97 444.44,98.41 445.86,96.99 447.28,98.41 448.70,96.28 450.12,94.15 451.55,100.55 452.97,100.55 454.39,108.36 455.10,94.86 456.52,100.55 457.94,96.99 459.36,86.33 460.79,76.37 462.21,86.33 463.63,97.70 465.05,108.36 466.47,96.28 467.90,99.12 469.32,95.57 470.74,96.99 472.16,99.12 473.58,101.97 474.53,97.70 475.95,74.95 477.37,93.44 478.80,97.70 480.22,94.86 481.64,97.70 483.06,106.23 484.48,99.83 485.91,102.68 487.33,99.12 488.75,101.97 490.17,104.10 491.59,101.97 493.01,100.55 494.44,98.41 495.86,99.12 497.28,96.28 498.70,94.86 500.12,95.57 501.55,94.15 502.97,97.70 504.39,99.83 505.81,98.41 507.23,94.86 508.65,100.55 510.08,104.81 511.50,104.10 512.92,103.39 514.34,99.83 515.76,97.70 517.18,101.26 518.61,105.52 519.74,107.37" fill="none" stroke="#1010f0" stroke-width="1.65" stroke-linejoin="round"/>
<ellipse cx="369.2" cy="87.4" rx="8.1" ry="13.4" fill="none" stroke="#333" stroke-width="1.2" stroke-dasharray="2.3,1.8"/>
<ellipse cx="406.6" cy="86.8" rx="8.0" ry="13.1" fill="none" stroke="#333" stroke-width="1.2" stroke-dasharray="2.3,1.8"/>
<ellipse cx="457.4" cy="85.6" rx="7.6" ry="13.7" fill="none" stroke="#333" stroke-width="1.2" stroke-dasharray="2.3,1.8"/>
<ellipse cx="476.3" cy="83.3" rx="7.7" ry="11.8" fill="none" stroke="#333" stroke-width="1.2" stroke-dasharray="2.3,1.8"/>
<text x="384" y="63.3" class="l" textLength="110.3" lengthAdjust="spacingAndGlyphs">Harmonic Components</text>
<rect x="306.3" y="38.8" width="212.90000000000003" height="92.00000000000001" fill="none" stroke="#1a1a1a" stroke-width="1.2"/>
<path d="M332.91,130.8v-2.2M332.91,38.8v2.2M359.53,130.8v-3M359.53,38.8v3M386.14,130.8v-2.2M386.14,38.8v2.2M412.75,130.8v-3M412.75,38.8v3M439.36,130.8v-2.2M439.36,38.8v2.2M465.98,130.8v-3M465.98,38.8v3M492.59,130.8v-2.2M492.59,38.8v2.2M306.3,48.00h2.5M519.2,48.00h-2.5M306.3,57.20h4M519.2,57.20h-4M306.3,66.40h2.5M519.2,66.40h-2.5M306.3,75.60h4M519.2,75.60h-4M306.3,84.80h2.5M519.2,84.80h-2.5M306.3,94.00h4M519.2,94.00h-4M306.3,103.20h2.5M519.2,103.20h-2.5M306.3,112.40h4M519.2,112.40h-4M306.3,121.60h2.5M519.2,121.60h-2.5" stroke="#000" stroke-width="1.1" fill="none"/>
<text x="301.7" y="42.0" text-anchor="end" class="t">20</text>
<text x="301.7" y="60.4" text-anchor="end" class="t">0</text>
<text x="301.7" y="78.8" text-anchor="end" class="t">-20</text>
<text x="301.7" y="97.2" text-anchor="end" class="t">-40</text>
<text x="301.7" y="115.6" text-anchor="end" class="t">-60</text>
<text x="301.7" y="134.0" text-anchor="end" class="t">-80</text>
<text x="306.3" y="144.0" text-anchor="middle" class="t">0</text>
<text x="359.5" y="144.0" text-anchor="middle" class="t">1000</text>
<text x="412.8" y="144.0" text-anchor="middle" class="t">2000</text>
<text x="466.0" y="144.0" text-anchor="middle" class="t">3000</text>
<text x="519.2" y="144.0" text-anchor="middle" class="t">4000</text>
<text x="313" y="56" class="p">(b)</text>
<text transform="translate(281.4,79.9) rotate(-90)" text-anchor="middle" class="l">Amplitude (dB)</text>
<text x="375.6" y="159.1" class="l" textLength="72.6" lengthAdjust="spacingAndGlyphs">Frequency (Hz)</text>
<clipPath id="cd"><rect x="303.6" y="167.1" width="212.39999999999998" height="92.00000000000003"/></clipPath>
<polyline clip-path="url(#cd)" points="303.42,237.65 304.84,240.50 306.27,239.08 307.69,244.76 309.11,237.65 310.53,246.90 311.95,240.50 313.37,241.92 314.80,239.79 316.22,241.21 317.64,237.65 319.06,240.50 320.48,234.81 321.91,237.65 323.33,241.21 324.75,240.50 326.17,237.65 327.59,234.81 329.01,237.65 330.44,234.81 331.86,230.55 333.28,234.10 334.70,227.70 336.12,236.23 337.55,229.12 338.97,229.12 340.39,227.70 341.81,219.17 343.23,209.22 346.10,178.30 347.50,203.93 348.92,212.46 350.34,224.86 351.76,227.70 353.18,229.12 354.61,229.83 356.03,229.12 357.45,230.55 358.87,231.26 360.29,232.68 360.84,236.23 362.27,237.65 363.69,238.36 365.11,236.23 366.53,233.39 367.24,229.12 368.66,232.68 370.09,233.39 371.51,231.97 372.93,232.68 374.35,230.55 375.77,236.23 377.19,229.12 378.62,234.81 380.04,232.68 381.46,234.10 382.88,235.52 384.30,232.68 385.73,237.65 387.15,236.23 388.57,233.39 389.99,232.68 391.41,229.83 392.83,234.81 394.26,236.94 395.68,233.39 397.10,237.65 398.52,241.92 399.94,243.34 401.36,239.79 402.79,234.81 404.21,228.41 405.63,234.81 407.05,241.21 408.47,243.34 409.90,235.52 411.32,233.39 412.74,235.52 415.42,232.68 416.84,236.23 418.27,237.65 419.69,229.83 421.11,236.23 422.53,231.97 423.95,237.65 425.37,235.52 426.80,244.76 428.22,239.79 429.64,237.65 431.06,236.23 432.48,238.36 433.91,233.39 435.33,236.23 436.75,234.10 438.17,236.23 439.59,231.26 441.01,231.97 442.44,230.55 443.86,231.26 445.28,237.65 446.70,230.55 448.12,234.10 449.55,238.36 450.97,236.23 452.39,239.08 453.81,238.36 455.23,240.50 456.65,231.97 458.08,229.83 459.50,237.65 460.92,236.23 462.34,235.52 463.76,234.81 465.18,233.39 466.00,236.23 467.42,231.97 468.84,237.65 470.27,239.79 471.69,236.23 473.11,230.55 473.82,227.70 475.24,236.23 476.66,241.92 478.09,236.23 479.51,239.08 480.93,239.79 482.35,237.65 483.77,234.10 485.19,243.34 486.62,236.23 488.04,243.34 489.46,239.08 490.88,240.50 492.30,229.83 493.73,236.23 495.15,238.36 496.57,233.39 497.99,235.52 499.41,233.39 500.83,231.97 502.26,240.50 503.68,239.08 505.10,237.65 506.52,239.08 507.94,238.36 509.36,236.23 510.79,237.65 512.21,236.94 513.63,237.65 516.05,235.52" fill="none" stroke="#f01010" stroke-width="1.65" stroke-linejoin="round"/>
<polyline clip-path="url(#cd)" points="303.42,236.23 304.84,237.65 306.27,236.94 307.69,237.65 309.11,235.52 310.53,233.39 311.95,236.23 313.37,231.97 314.80,234.10 316.22,232.68 317.64,231.26 319.06,229.83 320.48,231.97 321.91,232.68 323.33,231.26 324.75,233.39 326.17,232.68 327.59,231.26 329.01,231.97 330.44,229.83 331.86,225.57 333.28,226.99 334.70,224.86 336.12,225.57 337.55,222.73 338.97,220.59 340.39,216.33 341.10,213.48 341.81,217.75 343.23,209.22 346.10,179.00 347.50,203.53 348.92,212.06 350.34,216.33 351.05,213.48 351.76,217.75 353.18,220.59 354.61,223.44 356.03,221.30 357.45,225.57 358.87,222.73 360.29,227.70 360.84,231.26 362.27,230.55 363.69,228.41 365.11,229.12 366.53,223.44 367.24,215.62 368.66,223.44 370.09,229.83 371.51,228.41 372.93,229.12 374.35,226.99 375.77,224.86 377.19,226.28 378.62,222.01 380.04,224.86 381.46,225.57 382.88,222.73 384.30,226.99 385.73,230.55 387.15,229.12 388.57,228.41 389.99,225.57 391.41,226.28 392.83,222.01 394.26,229.12 395.68,230.55 397.10,235.52 398.52,223.44 399.94,229.12 401.36,226.99 402.79,225.57 404.21,217.04 405.63,227.70 407.05,226.28 408.47,229.83 409.90,228.41 411.32,229.12 412.74,226.99 415.42,223.44 416.84,225.57 418.27,224.15 419.69,222.01 421.11,227.70 422.53,229.12 423.95,224.15 425.37,230.55 426.80,233.39 428.22,231.97 429.64,230.55 431.06,229.12 432.48,226.28 433.91,227.70 435.33,225.57 436.75,225.57 438.17,224.15 439.59,220.59 441.01,222.01 442.44,225.57 443.86,222.73 445.28,220.59 446.70,225.57 448.12,223.44 449.55,222.01 450.97,225.57 452.39,224.15 453.81,227.70 455.23,225.57 456.65,222.73 458.08,215.62 459.50,223.44 460.92,229.12 462.34,226.99 463.76,230.55 465.18,231.26 466.00,229.83 467.42,229.12 468.84,230.55 470.27,228.41 471.69,229.12 473.11,224.86 473.82,217.04 475.24,227.70 476.66,229.12 478.09,226.99 479.51,228.41 480.93,229.83 482.35,229.12 483.77,224.86 485.19,230.55 486.62,226.99 487.33,222.73 488.75,225.57 490.17,229.12 491.59,224.86 493.01,226.99 494.44,230.55 495.86,227.70 497.28,225.57 498.70,223.44 500.12,220.59 501.55,222.73 502.97,225.57 504.39,222.73 505.81,229.12 507.23,235.52 508.65,231.97 510.08,228.41 511.50,227.70 512.92,232.68 514.34,230.55 516.05,233.67" fill="none" stroke="#1010f0" stroke-width="1.65" stroke-linejoin="round"/>
<path d="M324.7,178.5H360.6M303.6,215.1H515" stroke="#333" stroke-width="1.1" stroke-dasharray="1.6,1.6"/>
<path d="M354.9,182.5V210.0" stroke="#555" stroke-width="1.3"/>
<path d="M352.5,186.5L354.9,179.0L357.29999999999995,186.5Z M352.5,206.5L354.9,214.0L357.29999999999995,206.5Z" fill="#000"/>
<text x="363" y="205" class="l" textLength="40.6" lengthAdjust="spacingAndGlyphs">40.31dB</text>
<text x="425.2" y="211.5" class="b">P<tspan dy="3.8">noise</tspan><tspan dy="-3.8">=-33.27dB</tspan></text>
<rect x="303.6" y="167.1" width="212.39999999999998" height="92.00000000000003" fill="none" stroke="#1a1a1a" stroke-width="1.2"/>
<path d="M330.15,259.1v-2.2M330.15,167.1v2.2M356.70,259.1v-3M356.70,167.1v3M383.25,259.1v-2.2M383.25,167.1v2.2M409.80,259.1v-3M409.80,167.1v3M436.35,259.1v-2.2M436.35,167.1v2.2M462.90,259.1v-3M462.90,167.1v3M489.45,259.1v-2.2M489.45,167.1v2.2M303.6,176.30h2.5M516.0,176.30h-2.5M303.6,185.50h4M516.0,185.50h-4M303.6,194.70h2.5M516.0,194.70h-2.5M303.6,203.90h4M516.0,203.90h-4M303.6,213.10h2.5M516.0,213.10h-2.5M303.6,222.30h4M516.0,222.30h-4M303.6,231.50h2.5M516.0,231.50h-2.5M303.6,240.70h4M516.0,240.70h-4M303.6,249.90h2.5M516.0,249.90h-2.5" stroke="#000" stroke-width="1.1" fill="none"/>
<text x="299.0" y="170.3" text-anchor="end" class="t">20</text>
<text x="299.0" y="188.7" text-anchor="end" class="t">0</text>
<text x="299.0" y="207.1" text-anchor="end" class="t">-20</text>
<text x="299.0" y="225.5" text-anchor="end" class="t">-40</text>
<text x="299.0" y="243.9" text-anchor="end" class="t">-60</text>
<text x="299.0" y="262.3" text-anchor="end" class="t">-80</text>
<text x="303.6" y="272.6" text-anchor="middle" class="t">0</text>
<text x="356.7" y="272.6" text-anchor="middle" class="t">1000</text>
<text x="409.8" y="272.6" text-anchor="middle" class="t">2000</text>
<text x="462.9" y="272.6" text-anchor="middle" class="t">3000</text>
<text x="516.0" y="272.6" text-anchor="middle" class="t">4000</text>
<text x="310.4" y="181.6" class="p">(d)</text>
<text transform="translate(276.2,209.9) rotate(-90)" text-anchor="middle" class="l">Amplitude (dB)</text>
<text x="372.5" y="289.1" class="l" textLength="74.7" lengthAdjust="spacingAndGlyphs">Frequency (Hz)</text>
<clipPath id="cf"><rect x="302.3" y="295.5" width="213.40000000000003" height="92.10000000000002"/></clipPath>
<polyline clip-path="url(#cf)" points="302.13,366.92 303.55,368.34 304.98,369.76 306.40,373.32 307.82,369.05 309.24,372.61 310.66,370.47 312.09,374.74 313.51,362.65 314.93,366.92 316.35,370.47 317.77,360.52 319.19,371.18 320.62,366.21 322.04,370.47 323.46,367.63 324.88,362.65 326.30,366.92 327.73,364.08 329.15,369.05 330.57,362.65 331.99,361.23 333.41,358.39 334.83,364.08 336.26,357.68 337.68,356.97 339.10,356.26 340.52,352.70 341.94,348.44 343.36,331.77 345.20,307.30 347.63,334.62 349.05,354.12 350.47,357.68 351.90,359.81 353.32,359.10 354.74,361.23 356.16,361.94 357.58,363.36 358.84,364.03 360.27,356.92 361.69,364.74 363.11,361.18 364.53,365.45 365.95,352.65 367.37,364.03 368.80,366.87 370.22,366.16 371.64,366.87 373.06,367.58 374.48,365.45 375.91,366.87 377.33,362.61 378.75,368.29 380.17,366.16 381.59,369.00 383.01,368.29 384.44,368.29 385.86,367.58 387.28,368.29 388.70,369.72 390.12,366.87 391.55,362.61 392.97,366.16 394.39,365.45 395.81,366.16 397.23,364.74 398.65,364.03 400.08,361.18 401.50,359.05 403.63,351.23 405.05,356.92 406.47,364.03 407.90,359.05 409.32,366.16 410.74,365.45 412.16,359.76 413.42,361.18 414.84,362.61 416.27,364.03 417.69,361.90 419.11,364.74 420.53,359.76 421.95,363.32 423.37,364.74 424.80,360.47 426.22,363.32 427.64,359.76 429.06,361.90 430.48,359.76 431.91,364.03 433.33,359.76 434.75,362.61 436.17,359.05 437.59,361.90 439.01,359.76 440.44,359.05 441.86,364.03 443.28,362.61 444.70,360.47 446.12,364.03 447.55,360.47 448.97,364.03 450.39,366.16 451.81,363.32 453.23,368.29 454.65,366.16 456.79,352.65 458.21,366.87 459.63,366.16 461.05,360.47 462.47,361.18 463.90,362.61 465.32,361.18 466.74,360.47 468.16,362.61 469.11,361.33 470.53,363.46 471.95,361.33 472.95,352.80 474.09,365.59 475.51,361.33 476.93,368.44 478.35,367.73 479.77,371.28 481.19,371.99 482.62,373.41 484.04,368.44 485.46,365.59 486.88,367.01 488.30,374.12 489.73,368.44 491.15,365.59 492.57,362.75 493.99,364.88 495.41,366.30 496.83,367.73 498.26,371.28 499.68,365.59 501.10,364.88 502.52,363.46 503.94,364.88 505.36,361.33 506.79,369.15 508.21,374.12 509.63,370.57 511.05,367.73 512.47,365.59 513.18,376.97 513.90,368.44 515.74,365.59" fill="none" stroke="#f01010" stroke-width="1.65" stroke-linejoin="round"/>
<polyline clip-path="url(#cf)" points="302.13,364.08 303.55,366.92 304.98,364.79 306.40,366.21 307.82,362.65 309.24,364.79 310.66,361.94 312.09,362.65 313.51,359.81 314.93,358.39 316.35,360.52 317.77,362.65 319.19,361.23 320.62,362.65 322.04,359.81 323.46,361.23 324.88,354.83 326.30,359.81 327.73,357.68 329.15,361.23 330.57,358.39 331.99,355.55 333.41,351.28 334.83,354.83 336.26,352.70 337.68,348.44 339.10,342.75 340.52,346.30 341.94,341.33 343.36,331.37 345.20,308.00 347.63,334.22 349.05,344.17 350.47,342.04 351.90,347.73 353.32,349.86 354.74,354.12 356.16,358.39 357.58,360.52 358.84,358.34 360.27,357.63 361.69,356.21 363.11,359.05 364.53,352.65 365.95,331.33 366.66,317.82 367.37,331.33 368.80,352.65 370.22,355.50 371.64,356.92 373.06,357.63 374.48,358.34 375.91,356.92 377.33,352.65 378.04,356.92 379.46,351.23 380.88,355.50 382.30,358.34 383.73,360.47 384.44,363.32 385.86,359.76 387.28,356.92 388.70,354.79 390.12,353.36 391.55,355.50 392.97,351.23 394.39,356.92 395.81,359.05 397.23,360.47 398.65,352.65 400.08,355.50 401.50,351.23 402.92,345.55 403.63,319.24 404.34,338.44 405.76,352.65 407.18,354.79 408.61,364.74 410.03,352.65 411.45,358.34 412.87,351.23 413.42,356.92 414.84,359.76 416.27,354.08 417.69,356.92 418.40,348.39 419.82,354.79 421.24,351.23 422.66,355.50 424.09,356.21 425.51,357.63 426.93,356.21 428.35,352.65 429.77,354.08 431.19,349.81 432.62,352.65 434.04,349.10 435.46,351.23 436.88,352.65 438.30,354.79 439.73,356.92 441.15,356.21 442.57,358.34 443.99,365.45 445.41,356.92 446.83,349.81 448.26,352.65 449.68,351.23 451.10,355.50 452.52,361.18 453.94,364.03 455.36,345.55 456.79,319.24 458.21,344.12 459.63,356.92 461.05,361.18 462.47,352.65 463.90,350.52 465.32,353.36 466.74,348.39 468.16,349.10 469.11,352.65 470.53,349.81 471.95,338.44 472.95,318.53 474.09,338.44 475.51,351.23 476.93,354.08 478.35,355.50 479.77,354.08 481.19,353.36 482.62,349.81 484.04,355.50 485.46,355.50 486.88,356.92 488.30,356.21 489.73,355.50 491.15,352.65 492.57,351.94 493.99,351.23 495.41,351.94 496.83,353.36 498.26,355.50 499.68,352.65 501.10,354.08 502.52,351.94 503.94,356.92 505.36,359.76 506.79,358.34 508.21,356.92 509.63,355.50 511.05,354.08 512.47,359.76 513.90,364.74 515.74,354.08" fill="none" stroke="#1010f0" stroke-width="1.65" stroke-linejoin="round"/>
<ellipse cx="367.1" cy="335.6" rx="9.4" ry="18.0" fill="none" stroke="#333" stroke-width="1.2" stroke-dasharray="2.3,1.8"/>
<ellipse cx="403.1" cy="334.0" rx="9.3" ry="18.2" fill="none" stroke="#333" stroke-width="1.2" stroke-dasharray="2.3,1.8"/>
<ellipse cx="454.9" cy="333.1" rx="9.4" ry="19.0" fill="none" stroke="#333" stroke-width="1.2" stroke-dasharray="2.3,1.8"/>
<ellipse cx="475.6" cy="331.9" rx="9.4" ry="18.8" fill="none" stroke="#333" stroke-width="1.2" stroke-dasharray="2.3,1.8"/>
<text x="379.0" y="310.2" class="l" textLength="110.3" lengthAdjust="spacingAndGlyphs">Harmonic Components</text>
<rect x="302.3" y="295.5" width="213.40000000000003" height="92.10000000000002" fill="none" stroke="#1a1a1a" stroke-width="1.2"/>
<path d="M328.98,387.6v-2.2M328.98,295.5v2.2M355.65,387.6v-3M355.65,295.5v3M382.33,387.6v-2.2M382.33,295.5v2.2M409.00,387.6v-3M409.00,295.5v3M435.68,387.6v-2.2M435.68,295.5v2.2M462.35,387.6v-3M462.35,295.5v3M489.03,387.6v-2.2M489.03,295.5v2.2M302.3,304.71h2.5M515.7,304.71h-2.5M302.3,313.92h4M515.7,313.92h-4M302.3,323.13h2.5M515.7,323.13h-2.5M302.3,332.34h4M515.7,332.34h-4M302.3,341.55h2.5M515.7,341.55h-2.5M302.3,350.76h4M515.7,350.76h-4M302.3,359.97h2.5M515.7,359.97h-2.5M302.3,369.18h4M515.7,369.18h-4M302.3,378.39h2.5M515.7,378.39h-2.5" stroke="#000" stroke-width="1.1" fill="none"/>
<text x="297.7" y="298.7" text-anchor="end" class="t">20</text>
<text x="297.7" y="317.1" text-anchor="end" class="t">0</text>
<text x="297.7" y="335.5" text-anchor="end" class="t">-20</text>
<text x="297.7" y="354.0" text-anchor="end" class="t">-40</text>
<text x="297.7" y="372.4" text-anchor="end" class="t">-60</text>
<text x="297.7" y="390.8" text-anchor="end" class="t">-80</text>
<text x="302.3" y="401.5" text-anchor="middle" class="t">0</text>
<text x="355.7" y="401.5" text-anchor="middle" class="t">1000</text>
<text x="409.0" y="401.5" text-anchor="middle" class="t">2000</text>
<text x="462.4" y="401.5" text-anchor="middle" class="t">3000</text>
<text x="515.7" y="401.5" text-anchor="middle" class="t">4000</text>
<text x="311.5" y="311.6" class="p">(f)</text>
<text transform="translate(276.9,339.6) rotate(-90)" text-anchor="middle" class="l">Amplitude (dB)</text>
<text x="371.9" y="417.3" class="l" textLength="73.5" lengthAdjust="spacingAndGlyphs">Frequency (Hz)</text>
</svg></body></html>
